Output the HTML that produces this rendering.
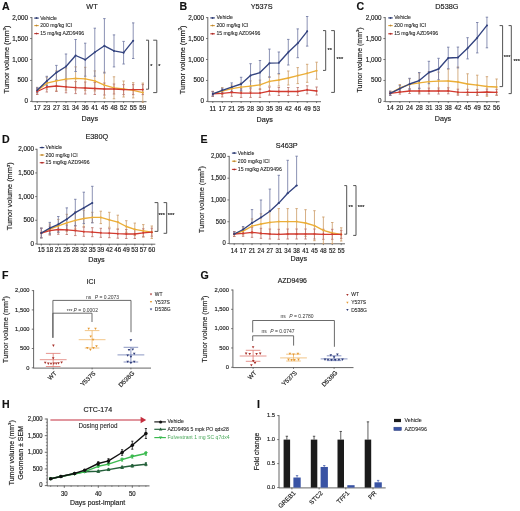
<!DOCTYPE html>
<html><head><meta charset="utf-8"><style>
html,body{margin:0;padding:0;background:#fff;}
svg{display:block;font-family:"Liberation Sans", sans-serif;filter:blur(0.25px);}
text{stroke:#1c1c1c;stroke-width:0.16px;}
</style></head><body>
<svg width="520" height="511" viewBox="0 0 520 511">
<rect width="520" height="511" fill="#fff"/>
<line x1="31.90" y1="17.10" x2="31.90" y2="101.90" stroke="#555555" stroke-width="0.9" />
<line x1="31.90" y1="101.70" x2="146.50" y2="101.70" stroke="#555555" stroke-width="0.9" />
<line x1="30.10" y1="101.40" x2="31.90" y2="101.40" stroke="#555555" stroke-width="0.8" />
<text x="28.10" y="103.25" font-size="6.3" text-anchor="end" fill="#1c1c1c" font-weight="normal" transform="translate(0,-8.080) scale(1,1.08)" >0</text>
<line x1="30.10" y1="80.45" x2="31.90" y2="80.45" stroke="#555555" stroke-width="0.8" />
<text x="28.10" y="82.30" font-size="6.3" text-anchor="end" fill="#1c1c1c" font-weight="normal" transform="translate(0,-6.404) scale(1,1.08)" >500</text>
<line x1="30.10" y1="59.50" x2="31.90" y2="59.50" stroke="#555555" stroke-width="0.8" />
<text x="28.10" y="61.35" font-size="6.3" text-anchor="end" fill="#1c1c1c" font-weight="normal" transform="translate(0,-4.728) scale(1,1.08)" >1,000</text>
<line x1="30.10" y1="38.55" x2="31.90" y2="38.55" stroke="#555555" stroke-width="0.8" />
<text x="28.10" y="40.40" font-size="6.3" text-anchor="end" fill="#1c1c1c" font-weight="normal" transform="translate(0,-3.052) scale(1,1.08)" >1,500</text>
<line x1="30.10" y1="17.60" x2="31.90" y2="17.60" stroke="#555555" stroke-width="0.8" />
<text x="28.10" y="19.45" font-size="6.3" text-anchor="end" fill="#1c1c1c" font-weight="normal" transform="translate(0,-1.376) scale(1,1.08)" >2,000</text>
<line x1="37.20" y1="101.40" x2="37.20" y2="103.00" stroke="#555555" stroke-width="0.8" />
<text x="37.20" y="110.05" font-size="6.3" text-anchor="middle" fill="#1c1c1c" font-weight="normal" transform="translate(0,-8.624) scale(1,1.08)" >17</text>
<line x1="46.80" y1="101.40" x2="46.80" y2="103.00" stroke="#555555" stroke-width="0.8" />
<text x="46.80" y="110.05" font-size="6.3" text-anchor="middle" fill="#1c1c1c" font-weight="normal" transform="translate(0,-8.624) scale(1,1.08)" >23</text>
<line x1="56.40" y1="101.40" x2="56.40" y2="103.00" stroke="#555555" stroke-width="0.8" />
<text x="56.40" y="110.05" font-size="6.3" text-anchor="middle" fill="#1c1c1c" font-weight="normal" transform="translate(0,-8.624) scale(1,1.08)" >27</text>
<line x1="66.00" y1="101.40" x2="66.00" y2="103.00" stroke="#555555" stroke-width="0.8" />
<text x="66.00" y="110.05" font-size="6.3" text-anchor="middle" fill="#1c1c1c" font-weight="normal" transform="translate(0,-8.624) scale(1,1.08)" >31</text>
<line x1="75.60" y1="101.40" x2="75.60" y2="103.00" stroke="#555555" stroke-width="0.8" />
<text x="75.60" y="110.05" font-size="6.3" text-anchor="middle" fill="#1c1c1c" font-weight="normal" transform="translate(0,-8.624) scale(1,1.08)" >34</text>
<line x1="85.20" y1="101.40" x2="85.20" y2="103.00" stroke="#555555" stroke-width="0.8" />
<text x="85.20" y="110.05" font-size="6.3" text-anchor="middle" fill="#1c1c1c" font-weight="normal" transform="translate(0,-8.624) scale(1,1.08)" >36</text>
<line x1="94.80" y1="101.40" x2="94.80" y2="103.00" stroke="#555555" stroke-width="0.8" />
<text x="94.80" y="110.05" font-size="6.3" text-anchor="middle" fill="#1c1c1c" font-weight="normal" transform="translate(0,-8.624) scale(1,1.08)" >41</text>
<line x1="104.40" y1="101.40" x2="104.40" y2="103.00" stroke="#555555" stroke-width="0.8" />
<text x="104.40" y="110.05" font-size="6.3" text-anchor="middle" fill="#1c1c1c" font-weight="normal" transform="translate(0,-8.624) scale(1,1.08)" >45</text>
<line x1="114.00" y1="101.40" x2="114.00" y2="103.00" stroke="#555555" stroke-width="0.8" />
<text x="114.00" y="110.05" font-size="6.3" text-anchor="middle" fill="#1c1c1c" font-weight="normal" transform="translate(0,-8.624) scale(1,1.08)" >48</text>
<line x1="123.60" y1="101.40" x2="123.60" y2="103.00" stroke="#555555" stroke-width="0.8" />
<text x="123.60" y="110.05" font-size="6.3" text-anchor="middle" fill="#1c1c1c" font-weight="normal" transform="translate(0,-8.624) scale(1,1.08)" >52</text>
<line x1="133.20" y1="101.40" x2="133.20" y2="103.00" stroke="#555555" stroke-width="0.8" />
<text x="133.20" y="110.05" font-size="6.3" text-anchor="middle" fill="#1c1c1c" font-weight="normal" transform="translate(0,-8.624) scale(1,1.08)" >55</text>
<line x1="142.80" y1="101.40" x2="142.80" y2="103.00" stroke="#555555" stroke-width="0.8" />
<text x="142.80" y="110.05" font-size="6.3" text-anchor="middle" fill="#1c1c1c" font-weight="normal" transform="translate(0,-8.624) scale(1,1.08)" >59</text>
<text x="89.80" y="120.37" font-size="7.2" text-anchor="middle" fill="#1c1c1c" font-weight="normal" transform="translate(0,-9.424) scale(1,1.08)" >Days</text>
<text x="92.00" y="8.81" font-size="7.3" text-anchor="middle" fill="#1c1c1c" font-weight="normal" transform="translate(0,-0.496) scale(1,1.08)" >WT</text>
<text x="2.00" y="9.38" font-size="10.6" text-anchor="start" fill="#111" font-weight="bold" transform="translate(0,-0.448) scale(1,1.08)" >A</text>
<g transform="translate(6.30,59.50) rotate(-90)">
<text x="0" y="2.61" font-size="7.3" text-anchor="middle" fill="#1c1c1c" >Tumor volume (mm<tspan font-size="4.38" dy="-2.63">3</tspan><tspan dy="2.63">)</tspan></text>
</g>
<line x1="34.20" y1="18.10" x2="38.80" y2="18.10" stroke="#33437f" stroke-width="1.1" />
<path d="M35.20,18.10 L36.50,17.10 L37.80,18.10 L36.50,19.10 Z" fill="#28356a"/>
<text x="40.20" y="19.54" font-size="5.15" text-anchor="start" fill="#1c1c1c" font-weight="normal" transform="translate(0,-1.416) scale(1,1.08)"  style="stroke-width:0.08px">Vehicle</text>
<line x1="34.20" y1="25.60" x2="38.80" y2="25.60" stroke="#ebae38" stroke-width="1.1" />
<path d="M35.20,25.60 L36.50,24.60 L37.80,25.60 L36.50,26.60 Z" fill="#b08040"/>
<text x="40.20" y="27.04" font-size="5.15" text-anchor="start" fill="#1c1c1c" font-weight="normal" transform="translate(0,-2.016) scale(1,1.08)"  style="stroke-width:0.08px">200 mg/kg ICI</text>
<line x1="34.20" y1="33.60" x2="38.80" y2="33.60" stroke="#d23b30" stroke-width="1.1" />
<path d="M35.20,33.60 L36.50,32.60 L37.80,33.60 L36.50,34.60 Z" fill="#9c3030"/>
<text x="40.20" y="35.04" font-size="5.15" text-anchor="start" fill="#1c1c1c" font-weight="normal" transform="translate(0,-2.656) scale(1,1.08)"  style="stroke-width:0.08px">15 mg/kg AZD9496</text>
<line x1="37.20" y1="87.30" x2="37.20" y2="94.30" stroke="#cfa270" stroke-width="0.85" />
<line x1="36.00" y1="87.30" x2="38.40" y2="87.30" stroke="#cfa270" stroke-width="0.9" />
<line x1="36.00" y1="94.30" x2="38.40" y2="94.30" stroke="#cfa270" stroke-width="0.9" />
<line x1="46.80" y1="77.20" x2="46.80" y2="89.20" stroke="#cfa270" stroke-width="0.85" />
<line x1="45.60" y1="77.20" x2="48.00" y2="77.20" stroke="#cfa270" stroke-width="0.9" />
<line x1="45.60" y1="89.20" x2="48.00" y2="89.20" stroke="#cfa270" stroke-width="0.9" />
<line x1="56.40" y1="70.90" x2="56.40" y2="90.90" stroke="#cfa270" stroke-width="0.85" />
<line x1="55.20" y1="70.90" x2="57.60" y2="70.90" stroke="#cfa270" stroke-width="0.9" />
<line x1="55.20" y1="90.90" x2="57.60" y2="90.90" stroke="#cfa270" stroke-width="0.9" />
<line x1="66.00" y1="68.10" x2="66.00" y2="90.10" stroke="#cfa270" stroke-width="0.85" />
<line x1="64.80" y1="68.10" x2="67.20" y2="68.10" stroke="#cfa270" stroke-width="0.9" />
<line x1="64.80" y1="90.10" x2="67.20" y2="90.10" stroke="#cfa270" stroke-width="0.9" />
<line x1="75.60" y1="66.90" x2="75.60" y2="89.90" stroke="#cfa270" stroke-width="0.85" />
<line x1="74.40" y1="66.90" x2="76.80" y2="66.90" stroke="#cfa270" stroke-width="0.9" />
<line x1="74.40" y1="89.90" x2="76.80" y2="89.90" stroke="#cfa270" stroke-width="0.9" />
<line x1="85.20" y1="67.30" x2="85.20" y2="90.30" stroke="#cfa270" stroke-width="0.85" />
<line x1="84.00" y1="67.30" x2="86.40" y2="67.30" stroke="#cfa270" stroke-width="0.9" />
<line x1="84.00" y1="90.30" x2="86.40" y2="90.30" stroke="#cfa270" stroke-width="0.9" />
<line x1="94.80" y1="70.90" x2="94.80" y2="90.90" stroke="#cfa270" stroke-width="0.85" />
<line x1="93.60" y1="70.90" x2="96.00" y2="70.90" stroke="#cfa270" stroke-width="0.9" />
<line x1="93.60" y1="90.90" x2="96.00" y2="90.90" stroke="#cfa270" stroke-width="0.9" />
<line x1="104.40" y1="72.20" x2="104.40" y2="98.20" stroke="#cfa270" stroke-width="0.85" />
<line x1="103.20" y1="72.20" x2="105.60" y2="72.20" stroke="#cfa270" stroke-width="0.9" />
<line x1="103.20" y1="98.20" x2="105.60" y2="98.20" stroke="#cfa270" stroke-width="0.9" />
<line x1="114.00" y1="76.80" x2="114.00" y2="98.80" stroke="#cfa270" stroke-width="0.85" />
<line x1="112.80" y1="76.80" x2="115.20" y2="76.80" stroke="#cfa270" stroke-width="0.9" />
<line x1="112.80" y1="98.80" x2="115.20" y2="98.80" stroke="#cfa270" stroke-width="0.9" />
<line x1="123.60" y1="81.00" x2="123.60" y2="97.00" stroke="#cfa270" stroke-width="0.85" />
<line x1="122.40" y1="81.00" x2="124.80" y2="81.00" stroke="#cfa270" stroke-width="0.9" />
<line x1="122.40" y1="97.00" x2="124.80" y2="97.00" stroke="#cfa270" stroke-width="0.9" />
<line x1="133.20" y1="82.70" x2="133.20" y2="97.90" stroke="#cfa270" stroke-width="0.85" />
<line x1="132.00" y1="82.70" x2="134.40" y2="82.70" stroke="#cfa270" stroke-width="0.9" />
<line x1="132.00" y1="97.90" x2="134.40" y2="97.90" stroke="#cfa270" stroke-width="0.9" />
<line x1="142.80" y1="83.10" x2="142.80" y2="102.10" stroke="#cfa270" stroke-width="0.85" />
<line x1="141.60" y1="83.10" x2="144.00" y2="83.10" stroke="#cfa270" stroke-width="0.9" />
<line x1="141.60" y1="102.10" x2="144.00" y2="102.10" stroke="#cfa270" stroke-width="0.9" />
<line x1="37.20" y1="88.50" x2="37.20" y2="94.50" stroke="#bf7a72" stroke-width="0.85" />
<line x1="36.00" y1="88.50" x2="38.40" y2="88.50" stroke="#bf7a72" stroke-width="0.9" />
<line x1="36.00" y1="94.50" x2="38.40" y2="94.50" stroke="#bf7a72" stroke-width="0.9" />
<line x1="46.80" y1="82.00" x2="46.80" y2="92.00" stroke="#bf7a72" stroke-width="0.85" />
<line x1="45.60" y1="82.00" x2="48.00" y2="82.00" stroke="#bf7a72" stroke-width="0.9" />
<line x1="45.60" y1="92.00" x2="48.00" y2="92.00" stroke="#bf7a72" stroke-width="0.9" />
<line x1="56.40" y1="80.50" x2="56.40" y2="91.50" stroke="#bf7a72" stroke-width="0.85" />
<line x1="55.20" y1="80.50" x2="57.60" y2="80.50" stroke="#bf7a72" stroke-width="0.9" />
<line x1="55.20" y1="91.50" x2="57.60" y2="91.50" stroke="#bf7a72" stroke-width="0.9" />
<line x1="66.00" y1="80.80" x2="66.00" y2="92.80" stroke="#bf7a72" stroke-width="0.85" />
<line x1="64.80" y1="80.80" x2="67.20" y2="80.80" stroke="#bf7a72" stroke-width="0.9" />
<line x1="64.80" y1="92.80" x2="67.20" y2="92.80" stroke="#bf7a72" stroke-width="0.9" />
<line x1="75.60" y1="81.60" x2="75.60" y2="93.60" stroke="#bf7a72" stroke-width="0.85" />
<line x1="74.40" y1="81.60" x2="76.80" y2="81.60" stroke="#bf7a72" stroke-width="0.9" />
<line x1="74.40" y1="93.60" x2="76.80" y2="93.60" stroke="#bf7a72" stroke-width="0.9" />
<line x1="85.20" y1="82.00" x2="85.20" y2="94.00" stroke="#bf7a72" stroke-width="0.85" />
<line x1="84.00" y1="82.00" x2="86.40" y2="82.00" stroke="#bf7a72" stroke-width="0.9" />
<line x1="84.00" y1="94.00" x2="86.40" y2="94.00" stroke="#bf7a72" stroke-width="0.9" />
<line x1="94.80" y1="82.50" x2="94.80" y2="94.50" stroke="#bf7a72" stroke-width="0.85" />
<line x1="93.60" y1="82.50" x2="96.00" y2="82.50" stroke="#bf7a72" stroke-width="0.9" />
<line x1="93.60" y1="94.50" x2="96.00" y2="94.50" stroke="#bf7a72" stroke-width="0.9" />
<line x1="104.40" y1="83.00" x2="104.40" y2="95.00" stroke="#bf7a72" stroke-width="0.85" />
<line x1="103.20" y1="83.00" x2="105.60" y2="83.00" stroke="#bf7a72" stroke-width="0.9" />
<line x1="103.20" y1="95.00" x2="105.60" y2="95.00" stroke="#bf7a72" stroke-width="0.9" />
<line x1="114.00" y1="84.00" x2="114.00" y2="94.00" stroke="#bf7a72" stroke-width="0.85" />
<line x1="112.80" y1="84.00" x2="115.20" y2="84.00" stroke="#bf7a72" stroke-width="0.9" />
<line x1="112.80" y1="94.00" x2="115.20" y2="94.00" stroke="#bf7a72" stroke-width="0.9" />
<line x1="123.60" y1="84.60" x2="123.60" y2="94.60" stroke="#bf7a72" stroke-width="0.85" />
<line x1="122.40" y1="84.60" x2="124.80" y2="84.60" stroke="#bf7a72" stroke-width="0.9" />
<line x1="122.40" y1="94.60" x2="124.80" y2="94.60" stroke="#bf7a72" stroke-width="0.9" />
<line x1="133.20" y1="84.60" x2="133.20" y2="94.60" stroke="#bf7a72" stroke-width="0.85" />
<line x1="132.00" y1="84.60" x2="134.40" y2="84.60" stroke="#bf7a72" stroke-width="0.9" />
<line x1="132.00" y1="94.60" x2="134.40" y2="94.60" stroke="#bf7a72" stroke-width="0.9" />
<line x1="142.80" y1="84.60" x2="142.80" y2="94.60" stroke="#bf7a72" stroke-width="0.85" />
<line x1="141.60" y1="84.60" x2="144.00" y2="84.60" stroke="#bf7a72" stroke-width="0.9" />
<line x1="141.60" y1="94.60" x2="144.00" y2="94.60" stroke="#bf7a72" stroke-width="0.9" />
<line x1="37.20" y1="87.70" x2="37.20" y2="92.70" stroke="#767ea6" stroke-width="0.85" />
<line x1="36.00" y1="87.70" x2="38.40" y2="87.70" stroke="#767ea6" stroke-width="0.9" />
<line x1="36.00" y1="92.70" x2="38.40" y2="92.70" stroke="#767ea6" stroke-width="0.9" />
<line x1="46.80" y1="76.30" x2="46.80" y2="85.50" stroke="#767ea6" stroke-width="0.85" />
<line x1="45.60" y1="76.30" x2="48.00" y2="76.30" stroke="#767ea6" stroke-width="0.9" />
<line x1="45.60" y1="85.50" x2="48.00" y2="85.50" stroke="#767ea6" stroke-width="0.9" />
<line x1="56.40" y1="65.40" x2="56.40" y2="79.80" stroke="#767ea6" stroke-width="0.85" />
<line x1="55.20" y1="65.40" x2="57.60" y2="65.40" stroke="#767ea6" stroke-width="0.9" />
<line x1="55.20" y1="79.80" x2="57.60" y2="79.80" stroke="#767ea6" stroke-width="0.9" />
<line x1="66.00" y1="54.00" x2="66.00" y2="79.00" stroke="#767ea6" stroke-width="0.85" />
<line x1="64.80" y1="54.00" x2="67.20" y2="54.00" stroke="#767ea6" stroke-width="0.9" />
<line x1="64.80" y1="79.00" x2="67.20" y2="79.00" stroke="#767ea6" stroke-width="0.9" />
<line x1="75.60" y1="39.50" x2="75.60" y2="71.50" stroke="#767ea6" stroke-width="0.85" />
<line x1="74.40" y1="39.50" x2="76.80" y2="39.50" stroke="#767ea6" stroke-width="0.9" />
<line x1="74.40" y1="71.50" x2="76.80" y2="71.50" stroke="#767ea6" stroke-width="0.9" />
<line x1="85.20" y1="43.20" x2="85.20" y2="76.20" stroke="#767ea6" stroke-width="0.85" />
<line x1="84.00" y1="43.20" x2="86.40" y2="43.20" stroke="#767ea6" stroke-width="0.9" />
<line x1="84.00" y1="76.20" x2="86.40" y2="76.20" stroke="#767ea6" stroke-width="0.9" />
<line x1="94.80" y1="28.20" x2="94.80" y2="76.20" stroke="#767ea6" stroke-width="0.85" />
<line x1="93.60" y1="28.20" x2="96.00" y2="28.20" stroke="#767ea6" stroke-width="0.9" />
<line x1="93.60" y1="76.20" x2="96.00" y2="76.20" stroke="#767ea6" stroke-width="0.9" />
<line x1="104.40" y1="18.60" x2="104.40" y2="73.00" stroke="#767ea6" stroke-width="0.85" />
<line x1="103.20" y1="18.60" x2="105.60" y2="18.60" stroke="#767ea6" stroke-width="0.9" />
<line x1="103.20" y1="73.00" x2="105.60" y2="73.00" stroke="#767ea6" stroke-width="0.9" />
<line x1="114.00" y1="34.90" x2="114.00" y2="66.90" stroke="#767ea6" stroke-width="0.85" />
<line x1="112.80" y1="34.90" x2="115.20" y2="34.90" stroke="#767ea6" stroke-width="0.9" />
<line x1="112.80" y1="66.90" x2="115.20" y2="66.90" stroke="#767ea6" stroke-width="0.9" />
<line x1="123.60" y1="41.40" x2="123.60" y2="64.00" stroke="#767ea6" stroke-width="0.85" />
<line x1="122.40" y1="41.40" x2="124.80" y2="41.40" stroke="#767ea6" stroke-width="0.9" />
<line x1="122.40" y1="64.00" x2="124.80" y2="64.00" stroke="#767ea6" stroke-width="0.9" />
<line x1="133.20" y1="22.90" x2="133.20" y2="58.50" stroke="#767ea6" stroke-width="0.85" />
<line x1="132.00" y1="22.90" x2="134.40" y2="22.90" stroke="#767ea6" stroke-width="0.9" />
<line x1="132.00" y1="58.50" x2="134.40" y2="58.50" stroke="#767ea6" stroke-width="0.9" />
<polyline points="37.20,90.80 46.80,83.20 56.40,80.90 66.00,79.10 75.60,78.40 85.20,78.80 94.80,80.90 104.40,85.20 114.00,87.80 123.60,89.00 133.20,90.30 142.80,92.60" fill="none" stroke="#ebae38" stroke-width="1.35" stroke-linejoin="round" stroke-linecap="round"/>
<circle cx="37.20" cy="90.80" r="1.0" fill="#ebae38"/>
<circle cx="46.80" cy="83.20" r="1.0" fill="#ebae38"/>
<circle cx="56.40" cy="80.90" r="1.0" fill="#ebae38"/>
<circle cx="66.00" cy="79.10" r="1.0" fill="#ebae38"/>
<circle cx="75.60" cy="78.40" r="1.0" fill="#ebae38"/>
<circle cx="85.20" cy="78.80" r="1.0" fill="#ebae38"/>
<circle cx="94.80" cy="80.90" r="1.0" fill="#ebae38"/>
<circle cx="104.40" cy="85.20" r="1.0" fill="#ebae38"/>
<circle cx="114.00" cy="87.80" r="1.0" fill="#ebae38"/>
<circle cx="123.60" cy="89.00" r="1.0" fill="#ebae38"/>
<circle cx="133.20" cy="90.30" r="1.0" fill="#ebae38"/>
<circle cx="142.80" cy="92.60" r="1.0" fill="#ebae38"/>
<polyline points="37.20,91.50 46.80,87.00 56.40,86.00 66.00,86.80 75.60,87.60 85.20,88.00 94.80,88.50 104.40,89.00 114.00,89.00 123.60,89.60 133.20,89.60 142.80,89.60" fill="none" stroke="#d23b30" stroke-width="1.35" stroke-linejoin="round" stroke-linecap="round"/>
<circle cx="37.20" cy="91.50" r="1.0" fill="#d23b30"/>
<circle cx="46.80" cy="87.00" r="1.0" fill="#d23b30"/>
<circle cx="56.40" cy="86.00" r="1.0" fill="#d23b30"/>
<circle cx="66.00" cy="86.80" r="1.0" fill="#d23b30"/>
<circle cx="75.60" cy="87.60" r="1.0" fill="#d23b30"/>
<circle cx="85.20" cy="88.00" r="1.0" fill="#d23b30"/>
<circle cx="94.80" cy="88.50" r="1.0" fill="#d23b30"/>
<circle cx="104.40" cy="89.00" r="1.0" fill="#d23b30"/>
<circle cx="114.00" cy="89.00" r="1.0" fill="#d23b30"/>
<circle cx="123.60" cy="89.60" r="1.0" fill="#d23b30"/>
<circle cx="133.20" cy="89.60" r="1.0" fill="#d23b30"/>
<circle cx="142.80" cy="89.60" r="1.0" fill="#d23b30"/>
<polyline points="37.20,90.20 46.80,80.90 56.40,72.60 66.00,66.50 75.60,55.50 85.20,59.70 94.80,52.20 104.40,45.80 114.00,50.90 123.60,52.70 133.20,40.70" fill="none" stroke="#33437f" stroke-width="1.35" stroke-linejoin="round" stroke-linecap="round"/>
<circle cx="37.20" cy="90.20" r="1.0" fill="#33437f"/>
<circle cx="46.80" cy="80.90" r="1.0" fill="#33437f"/>
<circle cx="56.40" cy="72.60" r="1.0" fill="#33437f"/>
<circle cx="66.00" cy="66.50" r="1.0" fill="#33437f"/>
<circle cx="75.60" cy="55.50" r="1.0" fill="#33437f"/>
<circle cx="85.20" cy="59.70" r="1.0" fill="#33437f"/>
<circle cx="94.80" cy="52.20" r="1.0" fill="#33437f"/>
<circle cx="104.40" cy="45.80" r="1.0" fill="#33437f"/>
<circle cx="114.00" cy="50.90" r="1.0" fill="#33437f"/>
<circle cx="123.60" cy="52.70" r="1.0" fill="#33437f"/>
<circle cx="133.20" cy="40.70" r="1.0" fill="#33437f"/>
<polyline points="146.00,40.20 148.60,40.20 148.60,89.20 146.00,89.20" fill="none" stroke="#404040" stroke-width="0.9"/>
<text x="150.30" y="68.10" font-size="5.6" fill="#1c1c1c">*</text>
<polyline points="153.20,40.20 156.80,40.20 156.80,92.60 153.20,92.60" fill="none" stroke="#404040" stroke-width="0.9"/>
<text x="158.20" y="68.10" font-size="5.6" fill="#1c1c1c">*</text>
<line x1="207.80" y1="17.10" x2="207.80" y2="101.90" stroke="#555555" stroke-width="0.9" />
<line x1="207.80" y1="101.70" x2="321.00" y2="101.70" stroke="#555555" stroke-width="0.9" />
<line x1="206.00" y1="101.40" x2="207.80" y2="101.40" stroke="#555555" stroke-width="0.8" />
<text x="204.00" y="103.25" font-size="6.3" text-anchor="end" fill="#1c1c1c" font-weight="normal" transform="translate(0,-8.080) scale(1,1.08)" >0</text>
<line x1="206.00" y1="80.45" x2="207.80" y2="80.45" stroke="#555555" stroke-width="0.8" />
<text x="204.00" y="82.30" font-size="6.3" text-anchor="end" fill="#1c1c1c" font-weight="normal" transform="translate(0,-6.404) scale(1,1.08)" >500</text>
<line x1="206.00" y1="59.50" x2="207.80" y2="59.50" stroke="#555555" stroke-width="0.8" />
<text x="204.00" y="61.35" font-size="6.3" text-anchor="end" fill="#1c1c1c" font-weight="normal" transform="translate(0,-4.728) scale(1,1.08)" >1,000</text>
<line x1="206.00" y1="38.55" x2="207.80" y2="38.55" stroke="#555555" stroke-width="0.8" />
<text x="204.00" y="40.40" font-size="6.3" text-anchor="end" fill="#1c1c1c" font-weight="normal" transform="translate(0,-3.052) scale(1,1.08)" >1,500</text>
<line x1="206.00" y1="17.60" x2="207.80" y2="17.60" stroke="#555555" stroke-width="0.8" />
<text x="204.00" y="19.45" font-size="6.3" text-anchor="end" fill="#1c1c1c" font-weight="normal" transform="translate(0,-1.376) scale(1,1.08)" >2,000</text>
<line x1="212.80" y1="101.40" x2="212.80" y2="103.00" stroke="#555555" stroke-width="0.8" />
<text x="212.80" y="110.45" font-size="6.3" text-anchor="middle" fill="#1c1c1c" font-weight="normal" transform="translate(0,-8.656) scale(1,1.08)" >11</text>
<line x1="222.24" y1="101.40" x2="222.24" y2="103.00" stroke="#555555" stroke-width="0.8" />
<text x="222.24" y="110.45" font-size="6.3" text-anchor="middle" fill="#1c1c1c" font-weight="normal" transform="translate(0,-8.656) scale(1,1.08)" >17</text>
<line x1="231.67" y1="101.40" x2="231.67" y2="103.00" stroke="#555555" stroke-width="0.8" />
<text x="231.67" y="110.45" font-size="6.3" text-anchor="middle" fill="#1c1c1c" font-weight="normal" transform="translate(0,-8.656) scale(1,1.08)" >21</text>
<line x1="241.11" y1="101.40" x2="241.11" y2="103.00" stroke="#555555" stroke-width="0.8" />
<text x="241.11" y="110.45" font-size="6.3" text-anchor="middle" fill="#1c1c1c" font-weight="normal" transform="translate(0,-8.656) scale(1,1.08)" >25</text>
<line x1="250.55" y1="101.40" x2="250.55" y2="103.00" stroke="#555555" stroke-width="0.8" />
<text x="250.55" y="110.45" font-size="6.3" text-anchor="middle" fill="#1c1c1c" font-weight="normal" transform="translate(0,-8.656) scale(1,1.08)" >28</text>
<line x1="259.98" y1="101.40" x2="259.98" y2="103.00" stroke="#555555" stroke-width="0.8" />
<text x="259.98" y="110.45" font-size="6.3" text-anchor="middle" fill="#1c1c1c" font-weight="normal" transform="translate(0,-8.656) scale(1,1.08)" >30</text>
<line x1="269.42" y1="101.40" x2="269.42" y2="103.00" stroke="#555555" stroke-width="0.8" />
<text x="269.42" y="110.45" font-size="6.3" text-anchor="middle" fill="#1c1c1c" font-weight="normal" transform="translate(0,-8.656) scale(1,1.08)" >35</text>
<line x1="278.85" y1="101.40" x2="278.85" y2="103.00" stroke="#555555" stroke-width="0.8" />
<text x="278.85" y="110.45" font-size="6.3" text-anchor="middle" fill="#1c1c1c" font-weight="normal" transform="translate(0,-8.656) scale(1,1.08)" >39</text>
<line x1="288.29" y1="101.40" x2="288.29" y2="103.00" stroke="#555555" stroke-width="0.8" />
<text x="288.29" y="110.45" font-size="6.3" text-anchor="middle" fill="#1c1c1c" font-weight="normal" transform="translate(0,-8.656) scale(1,1.08)" >42</text>
<line x1="297.73" y1="101.40" x2="297.73" y2="103.00" stroke="#555555" stroke-width="0.8" />
<text x="297.73" y="110.45" font-size="6.3" text-anchor="middle" fill="#1c1c1c" font-weight="normal" transform="translate(0,-8.656) scale(1,1.08)" >46</text>
<line x1="307.16" y1="101.40" x2="307.16" y2="103.00" stroke="#555555" stroke-width="0.8" />
<text x="307.16" y="110.45" font-size="6.3" text-anchor="middle" fill="#1c1c1c" font-weight="normal" transform="translate(0,-8.656) scale(1,1.08)" >49</text>
<line x1="316.60" y1="101.40" x2="316.60" y2="103.00" stroke="#555555" stroke-width="0.8" />
<text x="316.60" y="110.45" font-size="6.3" text-anchor="middle" fill="#1c1c1c" font-weight="normal" transform="translate(0,-8.656) scale(1,1.08)" >53</text>
<text x="264.70" y="121.77" font-size="7.2" text-anchor="middle" fill="#1c1c1c" font-weight="normal" transform="translate(0,-9.536) scale(1,1.08)" >Days</text>
<text x="261.60" y="8.81" font-size="7.3" text-anchor="middle" fill="#1c1c1c" font-weight="normal" transform="translate(0,-0.496) scale(1,1.08)" >Y537S</text>
<text x="179.60" y="9.38" font-size="10.6" text-anchor="start" fill="#111" font-weight="bold" transform="translate(0,-0.448) scale(1,1.08)" >B</text>
<g transform="translate(182.30,59.80) rotate(-90)">
<text x="0" y="2.64" font-size="7.4" text-anchor="middle" fill="#1c1c1c" >Tumor volume (mm<tspan font-size="4.44" dy="-2.66">3</tspan><tspan dy="2.66">)</tspan></text>
</g>
<line x1="210.30" y1="17.90" x2="214.90" y2="17.90" stroke="#33437f" stroke-width="1.1" />
<path d="M211.30,17.90 L212.60,16.90 L213.90,17.90 L212.60,18.90 Z" fill="#28356a"/>
<text x="216.40" y="19.34" font-size="5.15" text-anchor="start" fill="#1c1c1c" font-weight="normal" transform="translate(0,-1.400) scale(1,1.08)"  style="stroke-width:0.08px">Vehicle</text>
<line x1="210.30" y1="25.60" x2="214.90" y2="25.60" stroke="#ebae38" stroke-width="1.1" />
<path d="M211.30,25.60 L212.60,24.60 L213.90,25.60 L212.60,26.60 Z" fill="#b08040"/>
<text x="216.40" y="27.04" font-size="5.15" text-anchor="start" fill="#1c1c1c" font-weight="normal" transform="translate(0,-2.016) scale(1,1.08)"  style="stroke-width:0.08px">200 mg/kg ICI</text>
<line x1="210.30" y1="33.80" x2="214.90" y2="33.80" stroke="#d23b30" stroke-width="1.1" />
<path d="M211.30,33.80 L212.60,32.80 L213.90,33.80 L212.60,34.80 Z" fill="#9c3030"/>
<text x="216.40" y="35.24" font-size="5.15" text-anchor="start" fill="#1c1c1c" font-weight="normal" transform="translate(0,-2.672) scale(1,1.08)"  style="stroke-width:0.08px">15 mg/kg AZD9496</text>
<line x1="212.80" y1="91.40" x2="212.80" y2="96.40" stroke="#cfa270" stroke-width="0.85" />
<line x1="211.60" y1="91.40" x2="214.00" y2="91.40" stroke="#cfa270" stroke-width="0.9" />
<line x1="211.60" y1="96.40" x2="214.00" y2="96.40" stroke="#cfa270" stroke-width="0.9" />
<line x1="222.24" y1="87.60" x2="222.24" y2="94.60" stroke="#cfa270" stroke-width="0.85" />
<line x1="221.04" y1="87.60" x2="223.44" y2="87.60" stroke="#cfa270" stroke-width="0.9" />
<line x1="221.04" y1="94.60" x2="223.44" y2="94.60" stroke="#cfa270" stroke-width="0.9" />
<line x1="231.67" y1="85.10" x2="231.67" y2="92.30" stroke="#cfa270" stroke-width="0.85" />
<line x1="230.47" y1="85.10" x2="232.87" y2="85.10" stroke="#cfa270" stroke-width="0.9" />
<line x1="230.47" y1="92.30" x2="232.87" y2="92.30" stroke="#cfa270" stroke-width="0.9" />
<line x1="241.11" y1="82.90" x2="241.11" y2="91.50" stroke="#cfa270" stroke-width="0.85" />
<line x1="239.91" y1="82.90" x2="242.31" y2="82.90" stroke="#cfa270" stroke-width="0.9" />
<line x1="239.91" y1="91.50" x2="242.31" y2="91.50" stroke="#cfa270" stroke-width="0.9" />
<line x1="250.55" y1="80.90" x2="250.55" y2="91.30" stroke="#cfa270" stroke-width="0.85" />
<line x1="249.35" y1="80.90" x2="251.75" y2="80.90" stroke="#cfa270" stroke-width="0.9" />
<line x1="249.35" y1="91.30" x2="251.75" y2="91.30" stroke="#cfa270" stroke-width="0.9" />
<line x1="259.98" y1="80.10" x2="259.98" y2="89.50" stroke="#cfa270" stroke-width="0.85" />
<line x1="258.78" y1="80.10" x2="261.18" y2="80.10" stroke="#cfa270" stroke-width="0.9" />
<line x1="258.78" y1="89.50" x2="261.18" y2="89.50" stroke="#cfa270" stroke-width="0.9" />
<line x1="269.42" y1="76.70" x2="269.42" y2="86.10" stroke="#cfa270" stroke-width="0.85" />
<line x1="268.22" y1="76.70" x2="270.62" y2="76.70" stroke="#cfa270" stroke-width="0.9" />
<line x1="268.22" y1="86.10" x2="270.62" y2="86.10" stroke="#cfa270" stroke-width="0.9" />
<line x1="278.85" y1="74.00" x2="278.85" y2="86.00" stroke="#cfa270" stroke-width="0.85" />
<line x1="277.65" y1="74.00" x2="280.05" y2="74.00" stroke="#cfa270" stroke-width="0.9" />
<line x1="277.65" y1="86.00" x2="280.05" y2="86.00" stroke="#cfa270" stroke-width="0.9" />
<line x1="288.29" y1="71.00" x2="288.29" y2="85.00" stroke="#cfa270" stroke-width="0.85" />
<line x1="287.09" y1="71.00" x2="289.49" y2="71.00" stroke="#cfa270" stroke-width="0.9" />
<line x1="287.09" y1="85.00" x2="289.49" y2="85.00" stroke="#cfa270" stroke-width="0.9" />
<line x1="297.73" y1="67.60" x2="297.73" y2="83.60" stroke="#cfa270" stroke-width="0.85" />
<line x1="296.53" y1="67.60" x2="298.93" y2="67.60" stroke="#cfa270" stroke-width="0.9" />
<line x1="296.53" y1="83.60" x2="298.93" y2="83.60" stroke="#cfa270" stroke-width="0.9" />
<line x1="307.16" y1="64.30" x2="307.16" y2="82.30" stroke="#cfa270" stroke-width="0.85" />
<line x1="305.96" y1="64.30" x2="308.36" y2="64.30" stroke="#cfa270" stroke-width="0.9" />
<line x1="305.96" y1="82.30" x2="308.36" y2="82.30" stroke="#cfa270" stroke-width="0.9" />
<line x1="316.60" y1="62.20" x2="316.60" y2="79.20" stroke="#cfa270" stroke-width="0.85" />
<line x1="315.40" y1="62.20" x2="317.80" y2="62.20" stroke="#cfa270" stroke-width="0.9" />
<line x1="315.40" y1="79.20" x2="317.80" y2="79.20" stroke="#cfa270" stroke-width="0.9" />
<line x1="212.80" y1="91.40" x2="212.80" y2="96.40" stroke="#bf7a72" stroke-width="0.85" />
<line x1="211.60" y1="91.40" x2="214.00" y2="91.40" stroke="#bf7a72" stroke-width="0.9" />
<line x1="211.60" y1="96.40" x2="214.00" y2="96.40" stroke="#bf7a72" stroke-width="0.9" />
<line x1="222.24" y1="89.90" x2="222.24" y2="96.90" stroke="#bf7a72" stroke-width="0.85" />
<line x1="221.04" y1="89.90" x2="223.44" y2="89.90" stroke="#bf7a72" stroke-width="0.9" />
<line x1="221.04" y1="96.90" x2="223.44" y2="96.90" stroke="#bf7a72" stroke-width="0.9" />
<line x1="231.67" y1="88.30" x2="231.67" y2="96.30" stroke="#bf7a72" stroke-width="0.85" />
<line x1="230.47" y1="88.30" x2="232.87" y2="88.30" stroke="#bf7a72" stroke-width="0.9" />
<line x1="230.47" y1="96.30" x2="232.87" y2="96.30" stroke="#bf7a72" stroke-width="0.9" />
<line x1="241.11" y1="88.80" x2="241.11" y2="97.40" stroke="#bf7a72" stroke-width="0.85" />
<line x1="239.91" y1="88.80" x2="242.31" y2="88.80" stroke="#bf7a72" stroke-width="0.9" />
<line x1="239.91" y1="97.40" x2="242.31" y2="97.40" stroke="#bf7a72" stroke-width="0.9" />
<line x1="250.55" y1="88.80" x2="250.55" y2="97.40" stroke="#bf7a72" stroke-width="0.85" />
<line x1="249.35" y1="88.80" x2="251.75" y2="88.80" stroke="#bf7a72" stroke-width="0.9" />
<line x1="249.35" y1="97.40" x2="251.75" y2="97.40" stroke="#bf7a72" stroke-width="0.9" />
<line x1="259.98" y1="88.80" x2="259.98" y2="97.40" stroke="#bf7a72" stroke-width="0.85" />
<line x1="258.78" y1="88.80" x2="261.18" y2="88.80" stroke="#bf7a72" stroke-width="0.9" />
<line x1="258.78" y1="97.40" x2="261.18" y2="97.40" stroke="#bf7a72" stroke-width="0.9" />
<line x1="269.42" y1="87.10" x2="269.42" y2="95.10" stroke="#bf7a72" stroke-width="0.85" />
<line x1="268.22" y1="87.10" x2="270.62" y2="87.10" stroke="#bf7a72" stroke-width="0.9" />
<line x1="268.22" y1="95.10" x2="270.62" y2="95.10" stroke="#bf7a72" stroke-width="0.9" />
<line x1="278.85" y1="87.50" x2="278.85" y2="95.50" stroke="#bf7a72" stroke-width="0.85" />
<line x1="277.65" y1="87.50" x2="280.05" y2="87.50" stroke="#bf7a72" stroke-width="0.9" />
<line x1="277.65" y1="95.50" x2="280.05" y2="95.50" stroke="#bf7a72" stroke-width="0.9" />
<line x1="288.29" y1="87.50" x2="288.29" y2="95.50" stroke="#bf7a72" stroke-width="0.85" />
<line x1="287.09" y1="87.50" x2="289.49" y2="87.50" stroke="#bf7a72" stroke-width="0.9" />
<line x1="287.09" y1="95.50" x2="289.49" y2="95.50" stroke="#bf7a72" stroke-width="0.9" />
<line x1="297.73" y1="87.50" x2="297.73" y2="95.50" stroke="#bf7a72" stroke-width="0.85" />
<line x1="296.53" y1="87.50" x2="298.93" y2="87.50" stroke="#bf7a72" stroke-width="0.9" />
<line x1="296.53" y1="95.50" x2="298.93" y2="95.50" stroke="#bf7a72" stroke-width="0.9" />
<line x1="307.16" y1="85.80" x2="307.16" y2="93.80" stroke="#bf7a72" stroke-width="0.85" />
<line x1="305.96" y1="85.80" x2="308.36" y2="85.80" stroke="#bf7a72" stroke-width="0.9" />
<line x1="305.96" y1="93.80" x2="308.36" y2="93.80" stroke="#bf7a72" stroke-width="0.9" />
<line x1="316.60" y1="87.00" x2="316.60" y2="95.00" stroke="#bf7a72" stroke-width="0.85" />
<line x1="315.40" y1="87.00" x2="317.80" y2="87.00" stroke="#bf7a72" stroke-width="0.9" />
<line x1="315.40" y1="95.00" x2="317.80" y2="95.00" stroke="#bf7a72" stroke-width="0.9" />
<line x1="212.80" y1="91.90" x2="212.80" y2="95.90" stroke="#767ea6" stroke-width="0.85" />
<line x1="211.60" y1="91.90" x2="214.00" y2="91.90" stroke="#767ea6" stroke-width="0.9" />
<line x1="211.60" y1="95.90" x2="214.00" y2="95.90" stroke="#767ea6" stroke-width="0.9" />
<line x1="222.24" y1="88.30" x2="222.24" y2="92.30" stroke="#767ea6" stroke-width="0.85" />
<line x1="221.04" y1="88.30" x2="223.44" y2="88.30" stroke="#767ea6" stroke-width="0.9" />
<line x1="221.04" y1="92.30" x2="223.44" y2="92.30" stroke="#767ea6" stroke-width="0.9" />
<line x1="231.67" y1="82.90" x2="231.67" y2="91.50" stroke="#767ea6" stroke-width="0.85" />
<line x1="230.47" y1="82.90" x2="232.87" y2="82.90" stroke="#767ea6" stroke-width="0.9" />
<line x1="230.47" y1="91.50" x2="232.87" y2="91.50" stroke="#767ea6" stroke-width="0.9" />
<line x1="241.11" y1="77.30" x2="241.11" y2="90.70" stroke="#767ea6" stroke-width="0.85" />
<line x1="239.91" y1="77.30" x2="242.31" y2="77.30" stroke="#767ea6" stroke-width="0.9" />
<line x1="239.91" y1="90.70" x2="242.31" y2="90.70" stroke="#767ea6" stroke-width="0.9" />
<line x1="250.55" y1="63.70" x2="250.55" y2="87.10" stroke="#767ea6" stroke-width="0.85" />
<line x1="249.35" y1="63.70" x2="251.75" y2="63.70" stroke="#767ea6" stroke-width="0.9" />
<line x1="249.35" y1="87.10" x2="251.75" y2="87.10" stroke="#767ea6" stroke-width="0.9" />
<line x1="259.98" y1="60.50" x2="259.98" y2="84.70" stroke="#767ea6" stroke-width="0.85" />
<line x1="258.78" y1="60.50" x2="261.18" y2="60.50" stroke="#767ea6" stroke-width="0.9" />
<line x1="258.78" y1="84.70" x2="261.18" y2="84.70" stroke="#767ea6" stroke-width="0.9" />
<line x1="269.42" y1="49.10" x2="269.42" y2="77.30" stroke="#767ea6" stroke-width="0.85" />
<line x1="268.22" y1="49.10" x2="270.62" y2="49.10" stroke="#767ea6" stroke-width="0.9" />
<line x1="268.22" y1="77.30" x2="270.62" y2="77.30" stroke="#767ea6" stroke-width="0.9" />
<line x1="278.85" y1="52.00" x2="278.85" y2="73.60" stroke="#767ea6" stroke-width="0.85" />
<line x1="277.65" y1="52.00" x2="280.05" y2="52.00" stroke="#767ea6" stroke-width="0.9" />
<line x1="277.65" y1="73.60" x2="280.05" y2="73.60" stroke="#767ea6" stroke-width="0.9" />
<line x1="288.29" y1="39.40" x2="288.29" y2="65.00" stroke="#767ea6" stroke-width="0.85" />
<line x1="287.09" y1="39.40" x2="289.49" y2="39.40" stroke="#767ea6" stroke-width="0.9" />
<line x1="287.09" y1="65.00" x2="289.49" y2="65.00" stroke="#767ea6" stroke-width="0.9" />
<line x1="297.73" y1="28.90" x2="297.73" y2="57.70" stroke="#767ea6" stroke-width="0.85" />
<line x1="296.53" y1="28.90" x2="298.93" y2="28.90" stroke="#767ea6" stroke-width="0.9" />
<line x1="296.53" y1="57.70" x2="298.93" y2="57.70" stroke="#767ea6" stroke-width="0.9" />
<line x1="307.16" y1="16.50" x2="307.16" y2="46.10" stroke="#767ea6" stroke-width="0.85" />
<line x1="305.96" y1="16.50" x2="308.36" y2="16.50" stroke="#767ea6" stroke-width="0.9" />
<line x1="305.96" y1="46.10" x2="308.36" y2="46.10" stroke="#767ea6" stroke-width="0.9" />
<polyline points="212.80,93.90 222.24,91.10 231.67,88.70 241.11,87.20 250.55,86.10 259.98,84.80 269.42,81.40 278.85,80.00 288.29,78.00 297.73,75.60 307.16,73.30 316.60,70.70" fill="none" stroke="#ebae38" stroke-width="1.35" stroke-linejoin="round" stroke-linecap="round"/>
<circle cx="212.80" cy="93.90" r="1.0" fill="#ebae38"/>
<circle cx="222.24" cy="91.10" r="1.0" fill="#ebae38"/>
<circle cx="231.67" cy="88.70" r="1.0" fill="#ebae38"/>
<circle cx="241.11" cy="87.20" r="1.0" fill="#ebae38"/>
<circle cx="250.55" cy="86.10" r="1.0" fill="#ebae38"/>
<circle cx="259.98" cy="84.80" r="1.0" fill="#ebae38"/>
<circle cx="269.42" cy="81.40" r="1.0" fill="#ebae38"/>
<circle cx="278.85" cy="80.00" r="1.0" fill="#ebae38"/>
<circle cx="288.29" cy="78.00" r="1.0" fill="#ebae38"/>
<circle cx="297.73" cy="75.60" r="1.0" fill="#ebae38"/>
<circle cx="307.16" cy="73.30" r="1.0" fill="#ebae38"/>
<circle cx="316.60" cy="70.70" r="1.0" fill="#ebae38"/>
<polyline points="212.80,93.90 222.24,93.40 231.67,92.30 241.11,93.10 250.55,93.10 259.98,93.10 269.42,91.10 278.85,91.50 288.29,91.50 297.73,91.50 307.16,89.80 316.60,91.00" fill="none" stroke="#d23b30" stroke-width="1.35" stroke-linejoin="round" stroke-linecap="round"/>
<circle cx="212.80" cy="93.90" r="1.0" fill="#d23b30"/>
<circle cx="222.24" cy="93.40" r="1.0" fill="#d23b30"/>
<circle cx="231.67" cy="92.30" r="1.0" fill="#d23b30"/>
<circle cx="241.11" cy="93.10" r="1.0" fill="#d23b30"/>
<circle cx="250.55" cy="93.10" r="1.0" fill="#d23b30"/>
<circle cx="259.98" cy="93.10" r="1.0" fill="#d23b30"/>
<circle cx="269.42" cy="91.10" r="1.0" fill="#d23b30"/>
<circle cx="278.85" cy="91.50" r="1.0" fill="#d23b30"/>
<circle cx="288.29" cy="91.50" r="1.0" fill="#d23b30"/>
<circle cx="297.73" cy="91.50" r="1.0" fill="#d23b30"/>
<circle cx="307.16" cy="89.80" r="1.0" fill="#d23b30"/>
<circle cx="316.60" cy="91.00" r="1.0" fill="#d23b30"/>
<polyline points="212.80,93.90 222.24,90.30 231.67,87.20 241.11,84.00 250.55,75.40 259.98,72.60 269.42,63.20 278.85,62.80 288.29,52.20 297.73,43.30 307.16,31.30" fill="none" stroke="#33437f" stroke-width="1.35" stroke-linejoin="round" stroke-linecap="round"/>
<circle cx="212.80" cy="93.90" r="1.0" fill="#33437f"/>
<circle cx="222.24" cy="90.30" r="1.0" fill="#33437f"/>
<circle cx="231.67" cy="87.20" r="1.0" fill="#33437f"/>
<circle cx="241.11" cy="84.00" r="1.0" fill="#33437f"/>
<circle cx="250.55" cy="75.40" r="1.0" fill="#33437f"/>
<circle cx="259.98" cy="72.60" r="1.0" fill="#33437f"/>
<circle cx="269.42" cy="63.20" r="1.0" fill="#33437f"/>
<circle cx="278.85" cy="62.80" r="1.0" fill="#33437f"/>
<circle cx="288.29" cy="52.20" r="1.0" fill="#33437f"/>
<circle cx="297.73" cy="43.30" r="1.0" fill="#33437f"/>
<circle cx="307.16" cy="31.30" r="1.0" fill="#33437f"/>
<polyline points="323.00,30.60 325.70,30.60 325.70,70.40 323.00,70.40" fill="none" stroke="#404040" stroke-width="0.9"/>
<text x="327.60" y="51.80" font-size="5.6" fill="#1c1c1c">**</text>
<polyline points="331.20,30.60 334.40,30.60 334.40,92.40 331.20,92.40" fill="none" stroke="#404040" stroke-width="0.9"/>
<text x="336.60" y="61.40" font-size="5.6" fill="#1c1c1c">***</text>
<line x1="385.20" y1="17.10" x2="385.20" y2="101.90" stroke="#555555" stroke-width="0.9" />
<line x1="385.20" y1="101.70" x2="499.60" y2="101.70" stroke="#555555" stroke-width="0.9" />
<line x1="383.40" y1="101.40" x2="385.20" y2="101.40" stroke="#555555" stroke-width="0.8" />
<text x="381.40" y="103.25" font-size="6.3" text-anchor="end" fill="#1c1c1c" font-weight="normal" transform="translate(0,-8.080) scale(1,1.08)" >0</text>
<line x1="383.40" y1="80.45" x2="385.20" y2="80.45" stroke="#555555" stroke-width="0.8" />
<text x="381.40" y="82.30" font-size="6.3" text-anchor="end" fill="#1c1c1c" font-weight="normal" transform="translate(0,-6.404) scale(1,1.08)" >500</text>
<line x1="383.40" y1="59.50" x2="385.20" y2="59.50" stroke="#555555" stroke-width="0.8" />
<text x="381.40" y="61.35" font-size="6.3" text-anchor="end" fill="#1c1c1c" font-weight="normal" transform="translate(0,-4.728) scale(1,1.08)" >1,000</text>
<line x1="383.40" y1="38.55" x2="385.20" y2="38.55" stroke="#555555" stroke-width="0.8" />
<text x="381.40" y="40.40" font-size="6.3" text-anchor="end" fill="#1c1c1c" font-weight="normal" transform="translate(0,-3.052) scale(1,1.08)" >1,500</text>
<line x1="383.40" y1="17.60" x2="385.20" y2="17.60" stroke="#555555" stroke-width="0.8" />
<text x="381.40" y="19.45" font-size="6.3" text-anchor="end" fill="#1c1c1c" font-weight="normal" transform="translate(0,-1.376) scale(1,1.08)" >2,000</text>
<line x1="390.20" y1="101.40" x2="390.20" y2="103.00" stroke="#555555" stroke-width="0.8" />
<text x="390.20" y="110.05" font-size="6.3" text-anchor="middle" fill="#1c1c1c" font-weight="normal" transform="translate(0,-8.624) scale(1,1.08)" >14</text>
<line x1="399.87" y1="101.40" x2="399.87" y2="103.00" stroke="#555555" stroke-width="0.8" />
<text x="399.87" y="110.05" font-size="6.3" text-anchor="middle" fill="#1c1c1c" font-weight="normal" transform="translate(0,-8.624) scale(1,1.08)" >20</text>
<line x1="409.55" y1="101.40" x2="409.55" y2="103.00" stroke="#555555" stroke-width="0.8" />
<text x="409.55" y="110.05" font-size="6.3" text-anchor="middle" fill="#1c1c1c" font-weight="normal" transform="translate(0,-8.624) scale(1,1.08)" >24</text>
<line x1="419.22" y1="101.40" x2="419.22" y2="103.00" stroke="#555555" stroke-width="0.8" />
<text x="419.22" y="110.05" font-size="6.3" text-anchor="middle" fill="#1c1c1c" font-weight="normal" transform="translate(0,-8.624) scale(1,1.08)" >28</text>
<line x1="428.89" y1="101.40" x2="428.89" y2="103.00" stroke="#555555" stroke-width="0.8" />
<text x="428.89" y="110.05" font-size="6.3" text-anchor="middle" fill="#1c1c1c" font-weight="normal" transform="translate(0,-8.624) scale(1,1.08)" >31</text>
<line x1="438.56" y1="101.40" x2="438.56" y2="103.00" stroke="#555555" stroke-width="0.8" />
<text x="438.56" y="110.05" font-size="6.3" text-anchor="middle" fill="#1c1c1c" font-weight="normal" transform="translate(0,-8.624) scale(1,1.08)" >33</text>
<line x1="448.24" y1="101.40" x2="448.24" y2="103.00" stroke="#555555" stroke-width="0.8" />
<text x="448.24" y="110.05" font-size="6.3" text-anchor="middle" fill="#1c1c1c" font-weight="normal" transform="translate(0,-8.624) scale(1,1.08)" >38</text>
<line x1="457.91" y1="101.40" x2="457.91" y2="103.00" stroke="#555555" stroke-width="0.8" />
<text x="457.91" y="110.05" font-size="6.3" text-anchor="middle" fill="#1c1c1c" font-weight="normal" transform="translate(0,-8.624) scale(1,1.08)" >42</text>
<line x1="467.58" y1="101.40" x2="467.58" y2="103.00" stroke="#555555" stroke-width="0.8" />
<text x="467.58" y="110.05" font-size="6.3" text-anchor="middle" fill="#1c1c1c" font-weight="normal" transform="translate(0,-8.624) scale(1,1.08)" >45</text>
<line x1="477.25" y1="101.40" x2="477.25" y2="103.00" stroke="#555555" stroke-width="0.8" />
<text x="477.25" y="110.05" font-size="6.3" text-anchor="middle" fill="#1c1c1c" font-weight="normal" transform="translate(0,-8.624) scale(1,1.08)" >49</text>
<line x1="486.93" y1="101.40" x2="486.93" y2="103.00" stroke="#555555" stroke-width="0.8" />
<text x="486.93" y="110.05" font-size="6.3" text-anchor="middle" fill="#1c1c1c" font-weight="normal" transform="translate(0,-8.624) scale(1,1.08)" >52</text>
<line x1="496.60" y1="101.40" x2="496.60" y2="103.00" stroke="#555555" stroke-width="0.8" />
<text x="496.60" y="110.05" font-size="6.3" text-anchor="middle" fill="#1c1c1c" font-weight="normal" transform="translate(0,-8.624) scale(1,1.08)" >56</text>
<text x="443.00" y="120.47" font-size="7.2" text-anchor="middle" fill="#1c1c1c" font-weight="normal" transform="translate(0,-9.432) scale(1,1.08)" >Days</text>
<text x="446.90" y="8.41" font-size="7.3" text-anchor="middle" fill="#1c1c1c" font-weight="normal" transform="translate(0,-0.464) scale(1,1.08)" >D538G</text>
<text x="356.50" y="9.38" font-size="10.6" text-anchor="start" fill="#111" font-weight="bold" transform="translate(0,-0.448) scale(1,1.08)" >C</text>
<g transform="translate(359.20,59.90) rotate(-90)">
<text x="0" y="2.50" font-size="7.0" text-anchor="middle" fill="#1c1c1c" >Tumor volume (mm<tspan font-size="4.20" dy="-2.52">3</tspan><tspan dy="2.52">)</tspan></text>
</g>
<line x1="388.20" y1="17.90" x2="392.80" y2="17.90" stroke="#33437f" stroke-width="1.1" />
<path d="M389.20,17.90 L390.50,16.90 L391.80,17.90 L390.50,18.90 Z" fill="#28356a"/>
<text x="394.20" y="19.34" font-size="5.15" text-anchor="start" fill="#1c1c1c" font-weight="normal" transform="translate(0,-1.400) scale(1,1.08)"  style="stroke-width:0.08px">Vehicle</text>
<line x1="388.20" y1="25.60" x2="392.80" y2="25.60" stroke="#ebae38" stroke-width="1.1" />
<path d="M389.20,25.60 L390.50,24.60 L391.80,25.60 L390.50,26.60 Z" fill="#b08040"/>
<text x="394.20" y="27.04" font-size="5.15" text-anchor="start" fill="#1c1c1c" font-weight="normal" transform="translate(0,-2.016) scale(1,1.08)"  style="stroke-width:0.08px">200 mg/kg ICI</text>
<line x1="388.20" y1="33.80" x2="392.80" y2="33.80" stroke="#d23b30" stroke-width="1.1" />
<path d="M389.20,33.80 L390.50,32.80 L391.80,33.80 L390.50,34.80 Z" fill="#9c3030"/>
<text x="394.20" y="35.24" font-size="5.15" text-anchor="start" fill="#1c1c1c" font-weight="normal" transform="translate(0,-2.672) scale(1,1.08)"  style="stroke-width:0.08px">15 mg/kg AZD9496</text>
<line x1="390.20" y1="91.30" x2="390.20" y2="95.30" stroke="#cfa270" stroke-width="0.85" />
<line x1="389.00" y1="91.30" x2="391.40" y2="91.30" stroke="#cfa270" stroke-width="0.9" />
<line x1="389.00" y1="95.30" x2="391.40" y2="95.30" stroke="#cfa270" stroke-width="0.9" />
<line x1="399.87" y1="84.50" x2="399.87" y2="91.50" stroke="#cfa270" stroke-width="0.85" />
<line x1="398.67" y1="84.50" x2="401.07" y2="84.50" stroke="#cfa270" stroke-width="0.9" />
<line x1="398.67" y1="91.50" x2="401.07" y2="91.50" stroke="#cfa270" stroke-width="0.9" />
<line x1="409.55" y1="78.80" x2="409.55" y2="90.00" stroke="#cfa270" stroke-width="0.85" />
<line x1="408.35" y1="78.80" x2="410.75" y2="78.80" stroke="#cfa270" stroke-width="0.9" />
<line x1="408.35" y1="90.00" x2="410.75" y2="90.00" stroke="#cfa270" stroke-width="0.9" />
<line x1="419.22" y1="73.00" x2="419.22" y2="92.80" stroke="#cfa270" stroke-width="0.85" />
<line x1="418.02" y1="73.00" x2="420.42" y2="73.00" stroke="#cfa270" stroke-width="0.9" />
<line x1="418.02" y1="92.80" x2="420.42" y2="92.80" stroke="#cfa270" stroke-width="0.9" />
<line x1="428.89" y1="71.70" x2="428.89" y2="90.70" stroke="#cfa270" stroke-width="0.85" />
<line x1="427.69" y1="71.70" x2="430.09" y2="71.70" stroke="#cfa270" stroke-width="0.9" />
<line x1="427.69" y1="90.70" x2="430.09" y2="90.70" stroke="#cfa270" stroke-width="0.9" />
<line x1="438.56" y1="72.10" x2="438.56" y2="90.10" stroke="#cfa270" stroke-width="0.85" />
<line x1="437.36" y1="72.10" x2="439.76" y2="72.10" stroke="#cfa270" stroke-width="0.9" />
<line x1="437.36" y1="90.10" x2="439.76" y2="90.10" stroke="#cfa270" stroke-width="0.9" />
<line x1="448.24" y1="69.00" x2="448.24" y2="91.00" stroke="#cfa270" stroke-width="0.85" />
<line x1="447.04" y1="69.00" x2="449.44" y2="69.00" stroke="#cfa270" stroke-width="0.9" />
<line x1="447.04" y1="91.00" x2="449.44" y2="91.00" stroke="#cfa270" stroke-width="0.9" />
<line x1="457.91" y1="67.00" x2="457.91" y2="94.00" stroke="#cfa270" stroke-width="0.85" />
<line x1="456.71" y1="67.00" x2="459.11" y2="67.00" stroke="#cfa270" stroke-width="0.9" />
<line x1="456.71" y1="94.00" x2="459.11" y2="94.00" stroke="#cfa270" stroke-width="0.9" />
<line x1="467.58" y1="73.80" x2="467.58" y2="94.20" stroke="#cfa270" stroke-width="0.85" />
<line x1="466.38" y1="73.80" x2="468.78" y2="73.80" stroke="#cfa270" stroke-width="0.9" />
<line x1="466.38" y1="94.20" x2="468.78" y2="94.20" stroke="#cfa270" stroke-width="0.9" />
<line x1="477.25" y1="75.20" x2="477.25" y2="95.20" stroke="#cfa270" stroke-width="0.85" />
<line x1="476.05" y1="75.20" x2="478.45" y2="75.20" stroke="#cfa270" stroke-width="0.9" />
<line x1="476.05" y1="95.20" x2="478.45" y2="95.20" stroke="#cfa270" stroke-width="0.9" />
<line x1="486.93" y1="76.70" x2="486.93" y2="96.30" stroke="#cfa270" stroke-width="0.85" />
<line x1="485.73" y1="76.70" x2="488.13" y2="76.70" stroke="#cfa270" stroke-width="0.9" />
<line x1="485.73" y1="96.30" x2="488.13" y2="96.30" stroke="#cfa270" stroke-width="0.9" />
<line x1="496.60" y1="79.00" x2="496.60" y2="95.00" stroke="#cfa270" stroke-width="0.85" />
<line x1="495.40" y1="79.00" x2="497.80" y2="79.00" stroke="#cfa270" stroke-width="0.9" />
<line x1="495.40" y1="95.00" x2="497.80" y2="95.00" stroke="#cfa270" stroke-width="0.9" />
<line x1="390.20" y1="91.30" x2="390.20" y2="95.30" stroke="#bf7a72" stroke-width="0.85" />
<line x1="389.00" y1="91.30" x2="391.40" y2="91.30" stroke="#bf7a72" stroke-width="0.9" />
<line x1="389.00" y1="95.30" x2="391.40" y2="95.30" stroke="#bf7a72" stroke-width="0.9" />
<line x1="399.87" y1="90.10" x2="399.87" y2="94.10" stroke="#bf7a72" stroke-width="0.85" />
<line x1="398.67" y1="90.10" x2="401.07" y2="90.10" stroke="#bf7a72" stroke-width="0.9" />
<line x1="398.67" y1="94.10" x2="401.07" y2="94.10" stroke="#bf7a72" stroke-width="0.9" />
<line x1="409.55" y1="88.50" x2="409.55" y2="93.50" stroke="#bf7a72" stroke-width="0.85" />
<line x1="408.35" y1="88.50" x2="410.75" y2="88.50" stroke="#bf7a72" stroke-width="0.9" />
<line x1="408.35" y1="93.50" x2="410.75" y2="93.50" stroke="#bf7a72" stroke-width="0.9" />
<line x1="419.22" y1="88.10" x2="419.22" y2="93.90" stroke="#bf7a72" stroke-width="0.85" />
<line x1="418.02" y1="88.10" x2="420.42" y2="88.10" stroke="#bf7a72" stroke-width="0.9" />
<line x1="418.02" y1="93.90" x2="420.42" y2="93.90" stroke="#bf7a72" stroke-width="0.9" />
<line x1="428.89" y1="88.10" x2="428.89" y2="93.90" stroke="#bf7a72" stroke-width="0.85" />
<line x1="427.69" y1="88.10" x2="430.09" y2="88.10" stroke="#bf7a72" stroke-width="0.9" />
<line x1="427.69" y1="93.90" x2="430.09" y2="93.90" stroke="#bf7a72" stroke-width="0.9" />
<line x1="438.56" y1="88.00" x2="438.56" y2="94.00" stroke="#bf7a72" stroke-width="0.85" />
<line x1="437.36" y1="88.00" x2="439.76" y2="88.00" stroke="#bf7a72" stroke-width="0.9" />
<line x1="437.36" y1="94.00" x2="439.76" y2="94.00" stroke="#bf7a72" stroke-width="0.9" />
<line x1="448.24" y1="87.80" x2="448.24" y2="93.80" stroke="#bf7a72" stroke-width="0.85" />
<line x1="447.04" y1="87.80" x2="449.44" y2="87.80" stroke="#bf7a72" stroke-width="0.9" />
<line x1="447.04" y1="93.80" x2="449.44" y2="93.80" stroke="#bf7a72" stroke-width="0.9" />
<line x1="457.91" y1="89.20" x2="457.91" y2="95.20" stroke="#bf7a72" stroke-width="0.85" />
<line x1="456.71" y1="89.20" x2="459.11" y2="89.20" stroke="#bf7a72" stroke-width="0.9" />
<line x1="456.71" y1="95.20" x2="459.11" y2="95.20" stroke="#bf7a72" stroke-width="0.9" />
<line x1="467.58" y1="89.30" x2="467.58" y2="95.30" stroke="#bf7a72" stroke-width="0.85" />
<line x1="466.38" y1="89.30" x2="468.78" y2="89.30" stroke="#bf7a72" stroke-width="0.9" />
<line x1="466.38" y1="95.30" x2="468.78" y2="95.30" stroke="#bf7a72" stroke-width="0.9" />
<line x1="477.25" y1="89.40" x2="477.25" y2="95.40" stroke="#bf7a72" stroke-width="0.85" />
<line x1="476.05" y1="89.40" x2="478.45" y2="89.40" stroke="#bf7a72" stroke-width="0.9" />
<line x1="476.05" y1="95.40" x2="478.45" y2="95.40" stroke="#bf7a72" stroke-width="0.9" />
<line x1="486.93" y1="89.00" x2="486.93" y2="95.00" stroke="#bf7a72" stroke-width="0.85" />
<line x1="485.73" y1="89.00" x2="488.13" y2="89.00" stroke="#bf7a72" stroke-width="0.9" />
<line x1="485.73" y1="95.00" x2="488.13" y2="95.00" stroke="#bf7a72" stroke-width="0.9" />
<line x1="496.60" y1="89.30" x2="496.60" y2="95.30" stroke="#bf7a72" stroke-width="0.85" />
<line x1="495.40" y1="89.30" x2="497.80" y2="89.30" stroke="#bf7a72" stroke-width="0.9" />
<line x1="495.40" y1="95.30" x2="497.80" y2="95.30" stroke="#bf7a72" stroke-width="0.9" />
<line x1="390.20" y1="91.30" x2="390.20" y2="95.30" stroke="#767ea6" stroke-width="0.85" />
<line x1="389.00" y1="91.30" x2="391.40" y2="91.30" stroke="#767ea6" stroke-width="0.9" />
<line x1="389.00" y1="95.30" x2="391.40" y2="95.30" stroke="#767ea6" stroke-width="0.9" />
<line x1="399.87" y1="85.60" x2="399.87" y2="91.60" stroke="#767ea6" stroke-width="0.85" />
<line x1="398.67" y1="85.60" x2="401.07" y2="85.60" stroke="#767ea6" stroke-width="0.9" />
<line x1="398.67" y1="91.60" x2="401.07" y2="91.60" stroke="#767ea6" stroke-width="0.9" />
<line x1="409.55" y1="78.30" x2="409.55" y2="89.70" stroke="#767ea6" stroke-width="0.85" />
<line x1="408.35" y1="78.30" x2="410.75" y2="78.30" stroke="#767ea6" stroke-width="0.9" />
<line x1="408.35" y1="89.70" x2="410.75" y2="89.70" stroke="#767ea6" stroke-width="0.9" />
<line x1="419.22" y1="72.50" x2="419.22" y2="88.70" stroke="#767ea6" stroke-width="0.85" />
<line x1="418.02" y1="72.50" x2="420.42" y2="72.50" stroke="#767ea6" stroke-width="0.9" />
<line x1="418.02" y1="88.70" x2="420.42" y2="88.70" stroke="#767ea6" stroke-width="0.9" />
<line x1="428.89" y1="61.30" x2="428.89" y2="83.70" stroke="#767ea6" stroke-width="0.85" />
<line x1="427.69" y1="61.30" x2="430.09" y2="61.30" stroke="#767ea6" stroke-width="0.9" />
<line x1="427.69" y1="83.70" x2="430.09" y2="83.70" stroke="#767ea6" stroke-width="0.9" />
<line x1="438.56" y1="58.30" x2="438.56" y2="79.70" stroke="#767ea6" stroke-width="0.85" />
<line x1="437.36" y1="58.30" x2="439.76" y2="58.30" stroke="#767ea6" stroke-width="0.9" />
<line x1="437.36" y1="79.70" x2="439.76" y2="79.70" stroke="#767ea6" stroke-width="0.9" />
<line x1="448.24" y1="47.20" x2="448.24" y2="68.80" stroke="#767ea6" stroke-width="0.85" />
<line x1="447.04" y1="47.20" x2="449.44" y2="47.20" stroke="#767ea6" stroke-width="0.9" />
<line x1="447.04" y1="68.80" x2="449.44" y2="68.80" stroke="#767ea6" stroke-width="0.9" />
<line x1="457.91" y1="47.10" x2="457.91" y2="67.90" stroke="#767ea6" stroke-width="0.85" />
<line x1="456.71" y1="47.10" x2="459.11" y2="47.10" stroke="#767ea6" stroke-width="0.9" />
<line x1="456.71" y1="67.90" x2="459.11" y2="67.90" stroke="#767ea6" stroke-width="0.9" />
<line x1="467.58" y1="37.70" x2="467.58" y2="58.90" stroke="#767ea6" stroke-width="0.85" />
<line x1="466.38" y1="37.70" x2="468.78" y2="37.70" stroke="#767ea6" stroke-width="0.9" />
<line x1="466.38" y1="58.90" x2="468.78" y2="58.90" stroke="#767ea6" stroke-width="0.9" />
<line x1="477.25" y1="22.50" x2="477.25" y2="52.90" stroke="#767ea6" stroke-width="0.85" />
<line x1="476.05" y1="22.50" x2="478.45" y2="22.50" stroke="#767ea6" stroke-width="0.9" />
<line x1="476.05" y1="52.90" x2="478.45" y2="52.90" stroke="#767ea6" stroke-width="0.9" />
<line x1="486.93" y1="17.20" x2="486.93" y2="47.80" stroke="#767ea6" stroke-width="0.85" />
<line x1="485.73" y1="17.20" x2="488.13" y2="17.20" stroke="#767ea6" stroke-width="0.9" />
<line x1="485.73" y1="47.80" x2="488.13" y2="47.80" stroke="#767ea6" stroke-width="0.9" />
<polyline points="390.20,93.30 399.87,88.00 409.55,84.40 419.22,82.90 428.89,81.70 438.56,81.10 448.24,81.00 457.91,82.00 467.58,84.00 477.25,85.20 486.93,86.50 496.60,87.00" fill="none" stroke="#ebae38" stroke-width="1.35" stroke-linejoin="round" stroke-linecap="round"/>
<circle cx="390.20" cy="93.30" r="1.0" fill="#ebae38"/>
<circle cx="399.87" cy="88.00" r="1.0" fill="#ebae38"/>
<circle cx="409.55" cy="84.40" r="1.0" fill="#ebae38"/>
<circle cx="419.22" cy="82.90" r="1.0" fill="#ebae38"/>
<circle cx="428.89" cy="81.70" r="1.0" fill="#ebae38"/>
<circle cx="438.56" cy="81.10" r="1.0" fill="#ebae38"/>
<circle cx="448.24" cy="81.00" r="1.0" fill="#ebae38"/>
<circle cx="457.91" cy="82.00" r="1.0" fill="#ebae38"/>
<circle cx="467.58" cy="84.00" r="1.0" fill="#ebae38"/>
<circle cx="477.25" cy="85.20" r="1.0" fill="#ebae38"/>
<circle cx="486.93" cy="86.50" r="1.0" fill="#ebae38"/>
<circle cx="496.60" cy="87.00" r="1.0" fill="#ebae38"/>
<polyline points="390.20,93.30 399.87,92.10 409.55,91.00 419.22,91.00 428.89,91.00 438.56,91.00 448.24,90.80 457.91,92.20 467.58,92.30 477.25,92.40 486.93,92.00 496.60,92.30" fill="none" stroke="#d23b30" stroke-width="1.35" stroke-linejoin="round" stroke-linecap="round"/>
<circle cx="390.20" cy="93.30" r="1.0" fill="#d23b30"/>
<circle cx="399.87" cy="92.10" r="1.0" fill="#d23b30"/>
<circle cx="409.55" cy="91.00" r="1.0" fill="#d23b30"/>
<circle cx="419.22" cy="91.00" r="1.0" fill="#d23b30"/>
<circle cx="428.89" cy="91.00" r="1.0" fill="#d23b30"/>
<circle cx="438.56" cy="91.00" r="1.0" fill="#d23b30"/>
<circle cx="448.24" cy="90.80" r="1.0" fill="#d23b30"/>
<circle cx="457.91" cy="92.20" r="1.0" fill="#d23b30"/>
<circle cx="467.58" cy="92.30" r="1.0" fill="#d23b30"/>
<circle cx="477.25" cy="92.40" r="1.0" fill="#d23b30"/>
<circle cx="486.93" cy="92.00" r="1.0" fill="#d23b30"/>
<circle cx="496.60" cy="92.30" r="1.0" fill="#d23b30"/>
<polyline points="390.20,93.30 399.87,88.60 409.55,84.00 419.22,80.60 428.89,72.50 438.56,69.00 448.24,58.00 457.91,57.50 467.58,48.30 477.25,37.70 486.93,25.40" fill="none" stroke="#33437f" stroke-width="1.35" stroke-linejoin="round" stroke-linecap="round"/>
<circle cx="390.20" cy="93.30" r="1.0" fill="#33437f"/>
<circle cx="399.87" cy="88.60" r="1.0" fill="#33437f"/>
<circle cx="409.55" cy="84.00" r="1.0" fill="#33437f"/>
<circle cx="419.22" cy="80.60" r="1.0" fill="#33437f"/>
<circle cx="428.89" cy="72.50" r="1.0" fill="#33437f"/>
<circle cx="438.56" cy="69.00" r="1.0" fill="#33437f"/>
<circle cx="448.24" cy="58.00" r="1.0" fill="#33437f"/>
<circle cx="457.91" cy="57.50" r="1.0" fill="#33437f"/>
<circle cx="467.58" cy="48.30" r="1.0" fill="#33437f"/>
<circle cx="477.25" cy="37.70" r="1.0" fill="#33437f"/>
<circle cx="486.93" cy="25.40" r="1.0" fill="#33437f"/>
<polyline points="499.60,25.60 502.60,25.60 502.60,86.60 499.60,86.60" fill="none" stroke="#404040" stroke-width="0.9"/>
<text x="503.80" y="59.20" font-size="5.6" fill="#1c1c1c">***</text>
<polyline points="508.60,25.60 511.30,25.60 511.30,93.60 508.60,93.60" fill="none" stroke="#404040" stroke-width="0.9"/>
<text x="513.40" y="63.20" font-size="5.6" fill="#1c1c1c">***</text>
<line x1="37.00" y1="148.80" x2="37.00" y2="244.40" stroke="#555555" stroke-width="0.9" />
<line x1="37.00" y1="244.20" x2="155.30" y2="244.20" stroke="#555555" stroke-width="0.9" />
<line x1="35.20" y1="243.90" x2="37.00" y2="243.90" stroke="#555555" stroke-width="0.8" />
<text x="34.00" y="245.75" font-size="6.3" text-anchor="end" fill="#1c1c1c" font-weight="normal" transform="translate(0,-19.480) scale(1,1.08)" >0</text>
<line x1="35.20" y1="220.25" x2="37.00" y2="220.25" stroke="#555555" stroke-width="0.8" />
<text x="34.00" y="222.10" font-size="6.3" text-anchor="end" fill="#1c1c1c" font-weight="normal" transform="translate(0,-17.588) scale(1,1.08)" >500</text>
<line x1="35.20" y1="196.60" x2="37.00" y2="196.60" stroke="#555555" stroke-width="0.8" />
<text x="34.00" y="198.45" font-size="6.3" text-anchor="end" fill="#1c1c1c" font-weight="normal" transform="translate(0,-15.696) scale(1,1.08)" >1,000</text>
<line x1="35.20" y1="172.95" x2="37.00" y2="172.95" stroke="#555555" stroke-width="0.8" />
<text x="34.00" y="174.80" font-size="6.3" text-anchor="end" fill="#1c1c1c" font-weight="normal" transform="translate(0,-13.804) scale(1,1.08)" >1,500</text>
<line x1="35.20" y1="149.30" x2="37.00" y2="149.30" stroke="#555555" stroke-width="0.8" />
<text x="34.00" y="151.15" font-size="6.3" text-anchor="end" fill="#1c1c1c" font-weight="normal" transform="translate(0,-11.912) scale(1,1.08)" >2,000</text>
<line x1="41.30" y1="243.90" x2="41.30" y2="245.50" stroke="#555555" stroke-width="0.8" />
<text x="41.30" y="252.05" font-size="6.3" text-anchor="middle" fill="#1c1c1c" font-weight="normal" transform="translate(0,-19.984) scale(1,1.08)" >15</text>
<line x1="49.80" y1="243.90" x2="49.80" y2="245.50" stroke="#555555" stroke-width="0.8" />
<text x="49.80" y="252.05" font-size="6.3" text-anchor="middle" fill="#1c1c1c" font-weight="normal" transform="translate(0,-19.984) scale(1,1.08)" >18</text>
<line x1="58.30" y1="243.90" x2="58.30" y2="245.50" stroke="#555555" stroke-width="0.8" />
<text x="58.30" y="252.05" font-size="6.3" text-anchor="middle" fill="#1c1c1c" font-weight="normal" transform="translate(0,-19.984) scale(1,1.08)" >21</text>
<line x1="66.80" y1="243.90" x2="66.80" y2="245.50" stroke="#555555" stroke-width="0.8" />
<text x="66.80" y="252.05" font-size="6.3" text-anchor="middle" fill="#1c1c1c" font-weight="normal" transform="translate(0,-19.984) scale(1,1.08)" >25</text>
<line x1="75.30" y1="243.90" x2="75.30" y2="245.50" stroke="#555555" stroke-width="0.8" />
<text x="75.30" y="252.05" font-size="6.3" text-anchor="middle" fill="#1c1c1c" font-weight="normal" transform="translate(0,-19.984) scale(1,1.08)" >28</text>
<line x1="83.80" y1="243.90" x2="83.80" y2="245.50" stroke="#555555" stroke-width="0.8" />
<text x="83.80" y="252.05" font-size="6.3" text-anchor="middle" fill="#1c1c1c" font-weight="normal" transform="translate(0,-19.984) scale(1,1.08)" >32</text>
<line x1="92.30" y1="243.90" x2="92.30" y2="245.50" stroke="#555555" stroke-width="0.8" />
<text x="92.30" y="252.05" font-size="6.3" text-anchor="middle" fill="#1c1c1c" font-weight="normal" transform="translate(0,-19.984) scale(1,1.08)" >35</text>
<line x1="100.80" y1="243.90" x2="100.80" y2="245.50" stroke="#555555" stroke-width="0.8" />
<text x="100.80" y="252.05" font-size="6.3" text-anchor="middle" fill="#1c1c1c" font-weight="normal" transform="translate(0,-19.984) scale(1,1.08)" >39</text>
<line x1="109.30" y1="243.90" x2="109.30" y2="245.50" stroke="#555555" stroke-width="0.8" />
<text x="109.30" y="252.05" font-size="6.3" text-anchor="middle" fill="#1c1c1c" font-weight="normal" transform="translate(0,-19.984) scale(1,1.08)" >42</text>
<line x1="117.80" y1="243.90" x2="117.80" y2="245.50" stroke="#555555" stroke-width="0.8" />
<text x="117.80" y="252.05" font-size="6.3" text-anchor="middle" fill="#1c1c1c" font-weight="normal" transform="translate(0,-19.984) scale(1,1.08)" >46</text>
<line x1="126.30" y1="243.90" x2="126.30" y2="245.50" stroke="#555555" stroke-width="0.8" />
<text x="126.30" y="252.05" font-size="6.3" text-anchor="middle" fill="#1c1c1c" font-weight="normal" transform="translate(0,-19.984) scale(1,1.08)" >49</text>
<line x1="134.80" y1="243.90" x2="134.80" y2="245.50" stroke="#555555" stroke-width="0.8" />
<text x="134.80" y="252.05" font-size="6.3" text-anchor="middle" fill="#1c1c1c" font-weight="normal" transform="translate(0,-19.984) scale(1,1.08)" >53</text>
<line x1="143.30" y1="243.90" x2="143.30" y2="245.50" stroke="#555555" stroke-width="0.8" />
<text x="143.30" y="252.05" font-size="6.3" text-anchor="middle" fill="#1c1c1c" font-weight="normal" transform="translate(0,-19.984) scale(1,1.08)" >57</text>
<line x1="151.80" y1="243.90" x2="151.80" y2="245.50" stroke="#555555" stroke-width="0.8" />
<text x="151.80" y="252.05" font-size="6.3" text-anchor="middle" fill="#1c1c1c" font-weight="normal" transform="translate(0,-19.984) scale(1,1.08)" >60</text>
<text x="96.40" y="261.37" font-size="7.2" text-anchor="middle" fill="#1c1c1c" font-weight="normal" transform="translate(0,-20.704) scale(1,1.08)" >Days</text>
<text x="96.80" y="139.11" font-size="7.3" text-anchor="middle" fill="#1c1c1c" font-weight="normal" transform="translate(0,-10.920) scale(1,1.08)" >E380Q</text>
<text x="2.00" y="142.38" font-size="10.6" text-anchor="start" fill="#111" font-weight="bold" transform="translate(0,-11.088) scale(1,1.08)" >D</text>
<g transform="translate(9.70,196.30) rotate(-90)">
<text x="0" y="2.61" font-size="7.3" text-anchor="middle" fill="#1c1c1c" >Tumor volume (mm<tspan font-size="4.38" dy="-2.63">3</tspan><tspan dy="2.63">)</tspan></text>
</g>
<line x1="39.70" y1="147.60" x2="44.30" y2="147.60" stroke="#33437f" stroke-width="1.1" />
<path d="M40.70,147.60 L42.00,146.60 L43.30,147.60 L42.00,148.60 Z" fill="#28356a"/>
<text x="45.60" y="149.04" font-size="5.15" text-anchor="start" fill="#1c1c1c" font-weight="normal" transform="translate(0,-11.776) scale(1,1.08)"  style="stroke-width:0.08px">Vehicle</text>
<line x1="39.70" y1="155.00" x2="44.30" y2="155.00" stroke="#ebae38" stroke-width="1.1" />
<path d="M40.70,155.00 L42.00,154.00 L43.30,155.00 L42.00,156.00 Z" fill="#b08040"/>
<text x="45.60" y="156.44" font-size="5.15" text-anchor="start" fill="#1c1c1c" font-weight="normal" transform="translate(0,-12.368) scale(1,1.08)"  style="stroke-width:0.08px">200 mg/kg ICI</text>
<line x1="39.70" y1="162.70" x2="44.30" y2="162.70" stroke="#d23b30" stroke-width="1.1" />
<path d="M40.70,162.70 L42.00,161.70 L43.30,162.70 L42.00,163.70 Z" fill="#9c3030"/>
<text x="45.60" y="164.14" font-size="5.15" text-anchor="start" fill="#1c1c1c" font-weight="normal" transform="translate(0,-12.984) scale(1,1.08)"  style="stroke-width:0.08px">15 mg/kg AZD9496</text>
<line x1="41.30" y1="228.00" x2="41.30" y2="238.00" stroke="#cfa270" stroke-width="0.85" />
<line x1="40.10" y1="228.00" x2="42.50" y2="228.00" stroke="#cfa270" stroke-width="0.9" />
<line x1="40.10" y1="238.00" x2="42.50" y2="238.00" stroke="#cfa270" stroke-width="0.9" />
<line x1="49.80" y1="224.00" x2="49.80" y2="234.00" stroke="#cfa270" stroke-width="0.85" />
<line x1="48.60" y1="224.00" x2="51.00" y2="224.00" stroke="#cfa270" stroke-width="0.9" />
<line x1="48.60" y1="234.00" x2="51.00" y2="234.00" stroke="#cfa270" stroke-width="0.9" />
<line x1="58.30" y1="219.40" x2="58.30" y2="232.40" stroke="#cfa270" stroke-width="0.85" />
<line x1="57.10" y1="219.40" x2="59.50" y2="219.40" stroke="#cfa270" stroke-width="0.9" />
<line x1="57.10" y1="232.40" x2="59.50" y2="232.40" stroke="#cfa270" stroke-width="0.9" />
<line x1="66.80" y1="214.30" x2="66.80" y2="231.30" stroke="#cfa270" stroke-width="0.85" />
<line x1="65.60" y1="214.30" x2="68.00" y2="214.30" stroke="#cfa270" stroke-width="0.9" />
<line x1="65.60" y1="231.30" x2="68.00" y2="231.30" stroke="#cfa270" stroke-width="0.9" />
<line x1="75.30" y1="211.80" x2="75.30" y2="229.00" stroke="#cfa270" stroke-width="0.85" />
<line x1="74.10" y1="211.80" x2="76.50" y2="211.80" stroke="#cfa270" stroke-width="0.9" />
<line x1="74.10" y1="229.00" x2="76.50" y2="229.00" stroke="#cfa270" stroke-width="0.9" />
<line x1="83.80" y1="210.20" x2="83.80" y2="226.80" stroke="#cfa270" stroke-width="0.85" />
<line x1="82.60" y1="210.20" x2="85.00" y2="210.20" stroke="#cfa270" stroke-width="0.9" />
<line x1="82.60" y1="226.80" x2="85.00" y2="226.80" stroke="#cfa270" stroke-width="0.9" />
<line x1="92.30" y1="212.30" x2="92.30" y2="222.50" stroke="#cfa270" stroke-width="0.85" />
<line x1="91.10" y1="212.30" x2="93.50" y2="212.30" stroke="#cfa270" stroke-width="0.9" />
<line x1="91.10" y1="222.50" x2="93.50" y2="222.50" stroke="#cfa270" stroke-width="0.9" />
<line x1="100.80" y1="211.20" x2="100.80" y2="223.60" stroke="#cfa270" stroke-width="0.85" />
<line x1="99.60" y1="211.20" x2="102.00" y2="211.20" stroke="#cfa270" stroke-width="0.9" />
<line x1="99.60" y1="223.60" x2="102.00" y2="223.60" stroke="#cfa270" stroke-width="0.9" />
<line x1="109.30" y1="212.30" x2="109.30" y2="227.30" stroke="#cfa270" stroke-width="0.85" />
<line x1="108.10" y1="212.30" x2="110.50" y2="212.30" stroke="#cfa270" stroke-width="0.9" />
<line x1="108.10" y1="227.30" x2="110.50" y2="227.30" stroke="#cfa270" stroke-width="0.9" />
<line x1="117.80" y1="215.20" x2="117.80" y2="229.00" stroke="#cfa270" stroke-width="0.85" />
<line x1="116.60" y1="215.20" x2="119.00" y2="215.20" stroke="#cfa270" stroke-width="0.9" />
<line x1="116.60" y1="229.00" x2="119.00" y2="229.00" stroke="#cfa270" stroke-width="0.9" />
<line x1="126.30" y1="220.70" x2="126.30" y2="232.30" stroke="#cfa270" stroke-width="0.85" />
<line x1="125.10" y1="220.70" x2="127.50" y2="220.70" stroke="#cfa270" stroke-width="0.9" />
<line x1="125.10" y1="232.30" x2="127.50" y2="232.30" stroke="#cfa270" stroke-width="0.9" />
<line x1="134.80" y1="223.10" x2="134.80" y2="235.50" stroke="#cfa270" stroke-width="0.85" />
<line x1="133.60" y1="223.10" x2="136.00" y2="223.10" stroke="#cfa270" stroke-width="0.9" />
<line x1="133.60" y1="235.50" x2="136.00" y2="235.50" stroke="#cfa270" stroke-width="0.9" />
<line x1="143.30" y1="224.60" x2="143.30" y2="237.00" stroke="#cfa270" stroke-width="0.85" />
<line x1="142.10" y1="224.60" x2="144.50" y2="224.60" stroke="#cfa270" stroke-width="0.9" />
<line x1="142.10" y1="237.00" x2="144.50" y2="237.00" stroke="#cfa270" stroke-width="0.9" />
<line x1="151.80" y1="226.00" x2="151.80" y2="238.40" stroke="#cfa270" stroke-width="0.85" />
<line x1="150.60" y1="226.00" x2="153.00" y2="226.00" stroke="#cfa270" stroke-width="0.9" />
<line x1="150.60" y1="238.40" x2="153.00" y2="238.40" stroke="#cfa270" stroke-width="0.9" />
<line x1="41.30" y1="228.50" x2="41.30" y2="237.50" stroke="#bf7a72" stroke-width="0.85" />
<line x1="40.10" y1="228.50" x2="42.50" y2="228.50" stroke="#bf7a72" stroke-width="0.9" />
<line x1="40.10" y1="237.50" x2="42.50" y2="237.50" stroke="#bf7a72" stroke-width="0.9" />
<line x1="49.80" y1="226.10" x2="49.80" y2="235.10" stroke="#bf7a72" stroke-width="0.85" />
<line x1="48.60" y1="226.10" x2="51.00" y2="226.10" stroke="#bf7a72" stroke-width="0.9" />
<line x1="48.60" y1="235.10" x2="51.00" y2="235.10" stroke="#bf7a72" stroke-width="0.9" />
<line x1="58.30" y1="224.70" x2="58.30" y2="234.30" stroke="#bf7a72" stroke-width="0.85" />
<line x1="57.10" y1="224.70" x2="59.50" y2="224.70" stroke="#bf7a72" stroke-width="0.9" />
<line x1="57.10" y1="234.30" x2="59.50" y2="234.30" stroke="#bf7a72" stroke-width="0.9" />
<line x1="66.80" y1="225.10" x2="66.80" y2="234.50" stroke="#bf7a72" stroke-width="0.85" />
<line x1="65.60" y1="225.10" x2="68.00" y2="225.10" stroke="#bf7a72" stroke-width="0.9" />
<line x1="65.60" y1="234.50" x2="68.00" y2="234.50" stroke="#bf7a72" stroke-width="0.9" />
<line x1="75.30" y1="225.60" x2="75.30" y2="235.60" stroke="#bf7a72" stroke-width="0.85" />
<line x1="74.10" y1="225.60" x2="76.50" y2="225.60" stroke="#bf7a72" stroke-width="0.9" />
<line x1="74.10" y1="235.60" x2="76.50" y2="235.60" stroke="#bf7a72" stroke-width="0.9" />
<line x1="83.80" y1="227.10" x2="83.80" y2="236.30" stroke="#bf7a72" stroke-width="0.85" />
<line x1="82.60" y1="227.10" x2="85.00" y2="227.10" stroke="#bf7a72" stroke-width="0.9" />
<line x1="82.60" y1="236.30" x2="85.00" y2="236.30" stroke="#bf7a72" stroke-width="0.9" />
<line x1="92.30" y1="227.70" x2="92.30" y2="236.70" stroke="#bf7a72" stroke-width="0.85" />
<line x1="91.10" y1="227.70" x2="93.50" y2="227.70" stroke="#bf7a72" stroke-width="0.9" />
<line x1="91.10" y1="236.70" x2="93.50" y2="236.70" stroke="#bf7a72" stroke-width="0.9" />
<line x1="100.80" y1="228.30" x2="100.80" y2="237.30" stroke="#bf7a72" stroke-width="0.85" />
<line x1="99.60" y1="228.30" x2="102.00" y2="228.30" stroke="#bf7a72" stroke-width="0.9" />
<line x1="99.60" y1="237.30" x2="102.00" y2="237.30" stroke="#bf7a72" stroke-width="0.9" />
<line x1="109.30" y1="228.70" x2="109.30" y2="237.70" stroke="#bf7a72" stroke-width="0.85" />
<line x1="108.10" y1="228.70" x2="110.50" y2="228.70" stroke="#bf7a72" stroke-width="0.9" />
<line x1="108.10" y1="237.70" x2="110.50" y2="237.70" stroke="#bf7a72" stroke-width="0.9" />
<line x1="117.80" y1="229.20" x2="117.80" y2="238.20" stroke="#bf7a72" stroke-width="0.85" />
<line x1="116.60" y1="229.20" x2="119.00" y2="229.20" stroke="#bf7a72" stroke-width="0.9" />
<line x1="116.60" y1="238.20" x2="119.00" y2="238.20" stroke="#bf7a72" stroke-width="0.9" />
<line x1="126.30" y1="229.50" x2="126.30" y2="238.50" stroke="#bf7a72" stroke-width="0.85" />
<line x1="125.10" y1="229.50" x2="127.50" y2="229.50" stroke="#bf7a72" stroke-width="0.9" />
<line x1="125.10" y1="238.50" x2="127.50" y2="238.50" stroke="#bf7a72" stroke-width="0.9" />
<line x1="134.80" y1="229.50" x2="134.80" y2="238.50" stroke="#bf7a72" stroke-width="0.85" />
<line x1="133.60" y1="229.50" x2="136.00" y2="229.50" stroke="#bf7a72" stroke-width="0.9" />
<line x1="133.60" y1="238.50" x2="136.00" y2="238.50" stroke="#bf7a72" stroke-width="0.9" />
<line x1="143.30" y1="228.80" x2="143.30" y2="236.80" stroke="#bf7a72" stroke-width="0.85" />
<line x1="142.10" y1="228.80" x2="144.50" y2="228.80" stroke="#bf7a72" stroke-width="0.9" />
<line x1="142.10" y1="236.80" x2="144.50" y2="236.80" stroke="#bf7a72" stroke-width="0.9" />
<line x1="151.80" y1="228.20" x2="151.80" y2="236.20" stroke="#bf7a72" stroke-width="0.85" />
<line x1="150.60" y1="228.20" x2="153.00" y2="228.20" stroke="#bf7a72" stroke-width="0.9" />
<line x1="150.60" y1="236.20" x2="153.00" y2="236.20" stroke="#bf7a72" stroke-width="0.9" />
<line x1="41.30" y1="228.00" x2="41.30" y2="238.00" stroke="#767ea6" stroke-width="0.85" />
<line x1="40.10" y1="228.00" x2="42.50" y2="228.00" stroke="#767ea6" stroke-width="0.9" />
<line x1="40.10" y1="238.00" x2="42.50" y2="238.00" stroke="#767ea6" stroke-width="0.9" />
<line x1="49.80" y1="222.40" x2="49.80" y2="234.00" stroke="#767ea6" stroke-width="0.85" />
<line x1="48.60" y1="222.40" x2="51.00" y2="222.40" stroke="#767ea6" stroke-width="0.9" />
<line x1="48.60" y1="234.00" x2="51.00" y2="234.00" stroke="#767ea6" stroke-width="0.9" />
<line x1="58.30" y1="216.50" x2="58.30" y2="232.10" stroke="#767ea6" stroke-width="0.85" />
<line x1="57.10" y1="216.50" x2="59.50" y2="216.50" stroke="#767ea6" stroke-width="0.9" />
<line x1="57.10" y1="232.10" x2="59.50" y2="232.10" stroke="#767ea6" stroke-width="0.9" />
<line x1="66.80" y1="207.90" x2="66.80" y2="230.50" stroke="#767ea6" stroke-width="0.85" />
<line x1="65.60" y1="207.90" x2="68.00" y2="207.90" stroke="#767ea6" stroke-width="0.9" />
<line x1="65.60" y1="230.50" x2="68.00" y2="230.50" stroke="#767ea6" stroke-width="0.9" />
<line x1="75.30" y1="199.30" x2="75.30" y2="225.90" stroke="#767ea6" stroke-width="0.85" />
<line x1="74.10" y1="199.30" x2="76.50" y2="199.30" stroke="#767ea6" stroke-width="0.9" />
<line x1="74.10" y1="225.90" x2="76.50" y2="225.90" stroke="#767ea6" stroke-width="0.9" />
<line x1="83.80" y1="192.20" x2="83.80" y2="223.60" stroke="#767ea6" stroke-width="0.85" />
<line x1="82.60" y1="192.20" x2="85.00" y2="192.20" stroke="#767ea6" stroke-width="0.9" />
<line x1="82.60" y1="223.60" x2="85.00" y2="223.60" stroke="#767ea6" stroke-width="0.9" />
<line x1="92.30" y1="186.30" x2="92.30" y2="222.90" stroke="#767ea6" stroke-width="0.85" />
<line x1="91.10" y1="186.30" x2="93.50" y2="186.30" stroke="#767ea6" stroke-width="0.9" />
<line x1="91.10" y1="222.90" x2="93.50" y2="222.90" stroke="#767ea6" stroke-width="0.9" />
<polyline points="41.30,233.00 49.80,229.00 58.30,225.90 66.80,222.80 75.30,220.40 83.80,218.50 92.30,217.40 100.80,217.40 109.30,219.80 117.80,222.10 126.30,226.50 134.80,229.30 143.30,230.80 151.80,232.20" fill="none" stroke="#ebae38" stroke-width="1.35" stroke-linejoin="round" stroke-linecap="round"/>
<circle cx="41.30" cy="233.00" r="1.0" fill="#ebae38"/>
<circle cx="49.80" cy="229.00" r="1.0" fill="#ebae38"/>
<circle cx="58.30" cy="225.90" r="1.0" fill="#ebae38"/>
<circle cx="66.80" cy="222.80" r="1.0" fill="#ebae38"/>
<circle cx="75.30" cy="220.40" r="1.0" fill="#ebae38"/>
<circle cx="83.80" cy="218.50" r="1.0" fill="#ebae38"/>
<circle cx="92.30" cy="217.40" r="1.0" fill="#ebae38"/>
<circle cx="100.80" cy="217.40" r="1.0" fill="#ebae38"/>
<circle cx="109.30" cy="219.80" r="1.0" fill="#ebae38"/>
<circle cx="117.80" cy="222.10" r="1.0" fill="#ebae38"/>
<circle cx="126.30" cy="226.50" r="1.0" fill="#ebae38"/>
<circle cx="134.80" cy="229.30" r="1.0" fill="#ebae38"/>
<circle cx="143.30" cy="230.80" r="1.0" fill="#ebae38"/>
<circle cx="151.80" cy="232.20" r="1.0" fill="#ebae38"/>
<polyline points="41.30,233.00 49.80,230.60 58.30,229.50 66.80,229.80 75.30,230.60 83.80,231.70 92.30,232.20 100.80,232.80 109.30,233.20 117.80,233.70 126.30,234.00 134.80,234.00 143.30,232.80 151.80,232.20" fill="none" stroke="#d23b30" stroke-width="1.35" stroke-linejoin="round" stroke-linecap="round"/>
<circle cx="41.30" cy="233.00" r="1.0" fill="#d23b30"/>
<circle cx="49.80" cy="230.60" r="1.0" fill="#d23b30"/>
<circle cx="58.30" cy="229.50" r="1.0" fill="#d23b30"/>
<circle cx="66.80" cy="229.80" r="1.0" fill="#d23b30"/>
<circle cx="75.30" cy="230.60" r="1.0" fill="#d23b30"/>
<circle cx="83.80" cy="231.70" r="1.0" fill="#d23b30"/>
<circle cx="92.30" cy="232.20" r="1.0" fill="#d23b30"/>
<circle cx="100.80" cy="232.80" r="1.0" fill="#d23b30"/>
<circle cx="109.30" cy="233.20" r="1.0" fill="#d23b30"/>
<circle cx="117.80" cy="233.70" r="1.0" fill="#d23b30"/>
<circle cx="126.30" cy="234.00" r="1.0" fill="#d23b30"/>
<circle cx="134.80" cy="234.00" r="1.0" fill="#d23b30"/>
<circle cx="143.30" cy="232.80" r="1.0" fill="#d23b30"/>
<circle cx="151.80" cy="232.20" r="1.0" fill="#d23b30"/>
<polyline points="41.30,233.00 49.80,228.20 58.30,224.30 66.80,219.20 75.30,212.60 83.80,207.90 92.30,202.90" fill="none" stroke="#33437f" stroke-width="1.35" stroke-linejoin="round" stroke-linecap="round"/>
<circle cx="41.30" cy="233.00" r="1.0" fill="#33437f"/>
<circle cx="49.80" cy="228.20" r="1.0" fill="#33437f"/>
<circle cx="58.30" cy="224.30" r="1.0" fill="#33437f"/>
<circle cx="66.80" cy="219.20" r="1.0" fill="#33437f"/>
<circle cx="75.30" cy="212.60" r="1.0" fill="#33437f"/>
<circle cx="83.80" cy="207.90" r="1.0" fill="#33437f"/>
<circle cx="92.30" cy="202.90" r="1.0" fill="#33437f"/>
<polyline points="154.60,202.60 157.90,202.60 157.90,231.40 154.60,231.40" fill="none" stroke="#404040" stroke-width="0.9"/>
<text x="158.40" y="217.40" font-size="5.6" fill="#1c1c1c">***</text>
<polyline points="163.60,202.60 166.70,202.60 166.70,233.30 163.60,233.30" fill="none" stroke="#404040" stroke-width="0.9"/>
<text x="167.80" y="217.40" font-size="5.6" fill="#1c1c1c">***</text>
<line x1="229.20" y1="155.90" x2="229.20" y2="244.00" stroke="#555555" stroke-width="0.9" />
<line x1="229.20" y1="243.80" x2="345.00" y2="243.80" stroke="#555555" stroke-width="0.9" />
<line x1="227.40" y1="243.50" x2="229.20" y2="243.50" stroke="#555555" stroke-width="0.8" />
<text x="225.70" y="245.21" font-size="5.9" text-anchor="end" fill="#1c1c1c" font-weight="normal" transform="translate(0,-19.448) scale(1,1.08)" >0</text>
<line x1="227.40" y1="221.72" x2="229.20" y2="221.72" stroke="#555555" stroke-width="0.8" />
<text x="225.70" y="223.43" font-size="5.9" text-anchor="end" fill="#1c1c1c" font-weight="normal" transform="translate(0,-17.706) scale(1,1.08)" >500</text>
<line x1="227.40" y1="199.95" x2="229.20" y2="199.95" stroke="#555555" stroke-width="0.8" />
<text x="225.70" y="201.66" font-size="5.9" text-anchor="end" fill="#1c1c1c" font-weight="normal" transform="translate(0,-15.964) scale(1,1.08)" >1,000</text>
<line x1="227.40" y1="178.18" x2="229.20" y2="178.18" stroke="#555555" stroke-width="0.8" />
<text x="225.70" y="179.88" font-size="5.9" text-anchor="end" fill="#1c1c1c" font-weight="normal" transform="translate(0,-14.222) scale(1,1.08)" >1,500</text>
<line x1="227.40" y1="156.40" x2="229.20" y2="156.40" stroke="#555555" stroke-width="0.8" />
<text x="225.70" y="158.11" font-size="5.9" text-anchor="end" fill="#1c1c1c" font-weight="normal" transform="translate(0,-12.480) scale(1,1.08)" >2,000</text>
<line x1="234.20" y1="243.50" x2="234.20" y2="245.10" stroke="#555555" stroke-width="0.8" />
<text x="234.20" y="252.34" font-size="6.0" text-anchor="middle" fill="#1c1c1c" font-weight="normal" transform="translate(0,-20.016) scale(1,1.08)" >14</text>
<line x1="243.12" y1="243.50" x2="243.12" y2="245.10" stroke="#555555" stroke-width="0.8" />
<text x="243.12" y="252.34" font-size="6.0" text-anchor="middle" fill="#1c1c1c" font-weight="normal" transform="translate(0,-20.016) scale(1,1.08)" >17</text>
<line x1="252.03" y1="243.50" x2="252.03" y2="245.10" stroke="#555555" stroke-width="0.8" />
<text x="252.03" y="252.34" font-size="6.0" text-anchor="middle" fill="#1c1c1c" font-weight="normal" transform="translate(0,-20.016) scale(1,1.08)" >21</text>
<line x1="260.95" y1="243.50" x2="260.95" y2="245.10" stroke="#555555" stroke-width="0.8" />
<text x="260.95" y="252.34" font-size="6.0" text-anchor="middle" fill="#1c1c1c" font-weight="normal" transform="translate(0,-20.016) scale(1,1.08)" >24</text>
<line x1="269.87" y1="243.50" x2="269.87" y2="245.10" stroke="#555555" stroke-width="0.8" />
<text x="269.87" y="252.34" font-size="6.0" text-anchor="middle" fill="#1c1c1c" font-weight="normal" transform="translate(0,-20.016) scale(1,1.08)" >27</text>
<line x1="278.78" y1="243.50" x2="278.78" y2="245.10" stroke="#555555" stroke-width="0.8" />
<text x="278.78" y="252.34" font-size="6.0" text-anchor="middle" fill="#1c1c1c" font-weight="normal" transform="translate(0,-20.016) scale(1,1.08)" >31</text>
<line x1="287.70" y1="243.50" x2="287.70" y2="245.10" stroke="#555555" stroke-width="0.8" />
<text x="287.70" y="252.34" font-size="6.0" text-anchor="middle" fill="#1c1c1c" font-weight="normal" transform="translate(0,-20.016) scale(1,1.08)" >34</text>
<line x1="296.62" y1="243.50" x2="296.62" y2="245.10" stroke="#555555" stroke-width="0.8" />
<text x="296.62" y="252.34" font-size="6.0" text-anchor="middle" fill="#1c1c1c" font-weight="normal" transform="translate(0,-20.016) scale(1,1.08)" >38</text>
<line x1="305.53" y1="243.50" x2="305.53" y2="245.10" stroke="#555555" stroke-width="0.8" />
<text x="305.53" y="252.34" font-size="6.0" text-anchor="middle" fill="#1c1c1c" font-weight="normal" transform="translate(0,-20.016) scale(1,1.08)" >41</text>
<line x1="314.45" y1="243.50" x2="314.45" y2="245.10" stroke="#555555" stroke-width="0.8" />
<text x="314.45" y="252.34" font-size="6.0" text-anchor="middle" fill="#1c1c1c" font-weight="normal" transform="translate(0,-20.016) scale(1,1.08)" >45</text>
<line x1="323.37" y1="243.50" x2="323.37" y2="245.10" stroke="#555555" stroke-width="0.8" />
<text x="323.37" y="252.34" font-size="6.0" text-anchor="middle" fill="#1c1c1c" font-weight="normal" transform="translate(0,-20.016) scale(1,1.08)" >48</text>
<line x1="332.28" y1="243.50" x2="332.28" y2="245.10" stroke="#555555" stroke-width="0.8" />
<text x="332.28" y="252.34" font-size="6.0" text-anchor="middle" fill="#1c1c1c" font-weight="normal" transform="translate(0,-20.016) scale(1,1.08)" >52</text>
<line x1="341.20" y1="243.50" x2="341.20" y2="245.10" stroke="#555555" stroke-width="0.8" />
<text x="341.20" y="252.34" font-size="6.0" text-anchor="middle" fill="#1c1c1c" font-weight="normal" transform="translate(0,-20.016) scale(1,1.08)" >55</text>
<text x="298.80" y="261.17" font-size="7.2" text-anchor="middle" fill="#1c1c1c" font-weight="normal" transform="translate(0,-20.688) scale(1,1.08)" >Days</text>
<text x="286.80" y="147.31" font-size="7.3" text-anchor="middle" fill="#1c1c1c" font-weight="normal" transform="translate(0,-11.576) scale(1,1.08)" >S463P</text>
<text x="200.50" y="142.38" font-size="10.6" text-anchor="start" fill="#111" font-weight="bold" transform="translate(0,-11.088) scale(1,1.08)" >E</text>
<g transform="translate(201.50,199.50) rotate(-90)">
<text x="0" y="2.57" font-size="7.2" text-anchor="middle" fill="#1c1c1c" >Tumor volume (mm<tspan font-size="4.32" dy="-2.59">3</tspan><tspan dy="2.59">)</tspan></text>
</g>
<line x1="231.90" y1="153.10" x2="236.50" y2="153.10" stroke="#33437f" stroke-width="1.1" />
<path d="M232.90,153.10 L234.20,152.10 L235.50,153.10 L234.20,154.10 Z" fill="#28356a"/>
<text x="237.80" y="154.54" font-size="5.15" text-anchor="start" fill="#1c1c1c" font-weight="normal" transform="translate(0,-12.216) scale(1,1.08)"  style="stroke-width:0.08px">Vehicle</text>
<line x1="231.90" y1="161.20" x2="236.50" y2="161.20" stroke="#ebae38" stroke-width="1.1" />
<path d="M232.90,161.20 L234.20,160.20 L235.50,161.20 L234.20,162.20 Z" fill="#b08040"/>
<text x="237.80" y="162.64" font-size="5.15" text-anchor="start" fill="#1c1c1c" font-weight="normal" transform="translate(0,-12.864) scale(1,1.08)"  style="stroke-width:0.08px">200 mg/kg ICI</text>
<line x1="231.90" y1="169.40" x2="236.50" y2="169.40" stroke="#d23b30" stroke-width="1.1" />
<path d="M232.90,169.40 L234.20,168.40 L235.50,169.40 L234.20,170.40 Z" fill="#9c3030"/>
<text x="237.80" y="170.84" font-size="5.15" text-anchor="start" fill="#1c1c1c" font-weight="normal" transform="translate(0,-13.520) scale(1,1.08)"  style="stroke-width:0.08px">15 mg/kg AZD9496</text>
<line x1="234.20" y1="231.50" x2="234.20" y2="236.50" stroke="#cfa270" stroke-width="0.85" />
<line x1="233.00" y1="231.50" x2="235.40" y2="231.50" stroke="#cfa270" stroke-width="0.9" />
<line x1="233.00" y1="236.50" x2="235.40" y2="236.50" stroke="#cfa270" stroke-width="0.9" />
<line x1="243.12" y1="227.70" x2="243.12" y2="234.70" stroke="#cfa270" stroke-width="0.85" />
<line x1="241.92" y1="227.70" x2="244.32" y2="227.70" stroke="#cfa270" stroke-width="0.9" />
<line x1="241.92" y1="234.70" x2="244.32" y2="234.70" stroke="#cfa270" stroke-width="0.9" />
<line x1="252.03" y1="218.90" x2="252.03" y2="233.30" stroke="#cfa270" stroke-width="0.85" />
<line x1="250.83" y1="218.90" x2="253.23" y2="218.90" stroke="#cfa270" stroke-width="0.9" />
<line x1="250.83" y1="233.30" x2="253.23" y2="233.30" stroke="#cfa270" stroke-width="0.9" />
<line x1="260.95" y1="213.80" x2="260.95" y2="234.20" stroke="#cfa270" stroke-width="0.85" />
<line x1="259.75" y1="213.80" x2="262.15" y2="213.80" stroke="#cfa270" stroke-width="0.9" />
<line x1="259.75" y1="234.20" x2="262.15" y2="234.20" stroke="#cfa270" stroke-width="0.9" />
<line x1="269.87" y1="210.70" x2="269.87" y2="234.10" stroke="#cfa270" stroke-width="0.85" />
<line x1="268.67" y1="210.70" x2="271.07" y2="210.70" stroke="#cfa270" stroke-width="0.9" />
<line x1="268.67" y1="234.10" x2="271.07" y2="234.10" stroke="#cfa270" stroke-width="0.9" />
<line x1="278.78" y1="208.60" x2="278.78" y2="234.60" stroke="#cfa270" stroke-width="0.85" />
<line x1="277.58" y1="208.60" x2="279.98" y2="208.60" stroke="#cfa270" stroke-width="0.9" />
<line x1="277.58" y1="234.60" x2="279.98" y2="234.60" stroke="#cfa270" stroke-width="0.9" />
<line x1="287.70" y1="208.60" x2="287.70" y2="234.60" stroke="#cfa270" stroke-width="0.85" />
<line x1="286.50" y1="208.60" x2="288.90" y2="208.60" stroke="#cfa270" stroke-width="0.9" />
<line x1="286.50" y1="234.60" x2="288.90" y2="234.60" stroke="#cfa270" stroke-width="0.9" />
<line x1="296.62" y1="208.60" x2="296.62" y2="234.60" stroke="#cfa270" stroke-width="0.85" />
<line x1="295.42" y1="208.60" x2="297.82" y2="208.60" stroke="#cfa270" stroke-width="0.9" />
<line x1="295.42" y1="234.60" x2="297.82" y2="234.60" stroke="#cfa270" stroke-width="0.9" />
<line x1="305.53" y1="209.70" x2="305.53" y2="236.30" stroke="#cfa270" stroke-width="0.85" />
<line x1="304.33" y1="209.70" x2="306.73" y2="209.70" stroke="#cfa270" stroke-width="0.9" />
<line x1="304.33" y1="236.30" x2="306.73" y2="236.30" stroke="#cfa270" stroke-width="0.9" />
<line x1="314.45" y1="210.70" x2="314.45" y2="240.70" stroke="#cfa270" stroke-width="0.85" />
<line x1="313.25" y1="210.70" x2="315.65" y2="210.70" stroke="#cfa270" stroke-width="0.9" />
<line x1="313.25" y1="240.70" x2="315.65" y2="240.70" stroke="#cfa270" stroke-width="0.9" />
<line x1="323.37" y1="217.00" x2="323.37" y2="243.60" stroke="#cfa270" stroke-width="0.85" />
<line x1="322.17" y1="217.00" x2="324.57" y2="217.00" stroke="#cfa270" stroke-width="0.9" />
<line x1="322.17" y1="243.60" x2="324.57" y2="243.60" stroke="#cfa270" stroke-width="0.9" />
<line x1="332.28" y1="222.50" x2="332.28" y2="243.50" stroke="#cfa270" stroke-width="0.85" />
<line x1="331.08" y1="222.50" x2="333.48" y2="222.50" stroke="#cfa270" stroke-width="0.9" />
<line x1="331.08" y1="243.50" x2="333.48" y2="243.50" stroke="#cfa270" stroke-width="0.9" />
<line x1="341.20" y1="227.80" x2="341.20" y2="241.00" stroke="#cfa270" stroke-width="0.85" />
<line x1="340.00" y1="227.80" x2="342.40" y2="227.80" stroke="#cfa270" stroke-width="0.9" />
<line x1="340.00" y1="241.00" x2="342.40" y2="241.00" stroke="#cfa270" stroke-width="0.9" />
<line x1="234.20" y1="231.50" x2="234.20" y2="236.50" stroke="#bf7a72" stroke-width="0.85" />
<line x1="233.00" y1="231.50" x2="235.40" y2="231.50" stroke="#bf7a72" stroke-width="0.9" />
<line x1="233.00" y1="236.50" x2="235.40" y2="236.50" stroke="#bf7a72" stroke-width="0.9" />
<line x1="243.12" y1="230.30" x2="243.12" y2="236.30" stroke="#bf7a72" stroke-width="0.85" />
<line x1="241.92" y1="230.30" x2="244.32" y2="230.30" stroke="#bf7a72" stroke-width="0.9" />
<line x1="241.92" y1="236.30" x2="244.32" y2="236.30" stroke="#bf7a72" stroke-width="0.9" />
<line x1="252.03" y1="227.30" x2="252.03" y2="237.30" stroke="#bf7a72" stroke-width="0.85" />
<line x1="250.83" y1="227.30" x2="253.23" y2="227.30" stroke="#bf7a72" stroke-width="0.9" />
<line x1="250.83" y1="237.30" x2="253.23" y2="237.30" stroke="#bf7a72" stroke-width="0.9" />
<line x1="260.95" y1="228.30" x2="260.95" y2="238.30" stroke="#bf7a72" stroke-width="0.85" />
<line x1="259.75" y1="228.30" x2="262.15" y2="228.30" stroke="#bf7a72" stroke-width="0.9" />
<line x1="259.75" y1="238.30" x2="262.15" y2="238.30" stroke="#bf7a72" stroke-width="0.9" />
<line x1="269.87" y1="229.00" x2="269.87" y2="239.00" stroke="#bf7a72" stroke-width="0.85" />
<line x1="268.67" y1="229.00" x2="271.07" y2="229.00" stroke="#bf7a72" stroke-width="0.9" />
<line x1="268.67" y1="239.00" x2="271.07" y2="239.00" stroke="#bf7a72" stroke-width="0.9" />
<line x1="278.78" y1="229.30" x2="278.78" y2="239.30" stroke="#bf7a72" stroke-width="0.85" />
<line x1="277.58" y1="229.30" x2="279.98" y2="229.30" stroke="#bf7a72" stroke-width="0.9" />
<line x1="277.58" y1="239.30" x2="279.98" y2="239.30" stroke="#bf7a72" stroke-width="0.9" />
<line x1="287.70" y1="229.00" x2="287.70" y2="239.00" stroke="#bf7a72" stroke-width="0.85" />
<line x1="286.50" y1="229.00" x2="288.90" y2="229.00" stroke="#bf7a72" stroke-width="0.9" />
<line x1="286.50" y1="239.00" x2="288.90" y2="239.00" stroke="#bf7a72" stroke-width="0.9" />
<line x1="296.62" y1="229.00" x2="296.62" y2="239.00" stroke="#bf7a72" stroke-width="0.85" />
<line x1="295.42" y1="229.00" x2="297.82" y2="229.00" stroke="#bf7a72" stroke-width="0.9" />
<line x1="295.42" y1="239.00" x2="297.82" y2="239.00" stroke="#bf7a72" stroke-width="0.9" />
<line x1="305.53" y1="229.00" x2="305.53" y2="239.00" stroke="#bf7a72" stroke-width="0.85" />
<line x1="304.33" y1="229.00" x2="306.73" y2="229.00" stroke="#bf7a72" stroke-width="0.9" />
<line x1="304.33" y1="239.00" x2="306.73" y2="239.00" stroke="#bf7a72" stroke-width="0.9" />
<line x1="314.45" y1="229.00" x2="314.45" y2="239.00" stroke="#bf7a72" stroke-width="0.85" />
<line x1="313.25" y1="229.00" x2="315.65" y2="229.00" stroke="#bf7a72" stroke-width="0.9" />
<line x1="313.25" y1="239.00" x2="315.65" y2="239.00" stroke="#bf7a72" stroke-width="0.9" />
<line x1="323.37" y1="229.30" x2="323.37" y2="239.30" stroke="#bf7a72" stroke-width="0.85" />
<line x1="322.17" y1="229.30" x2="324.57" y2="229.30" stroke="#bf7a72" stroke-width="0.9" />
<line x1="322.17" y1="239.30" x2="324.57" y2="239.30" stroke="#bf7a72" stroke-width="0.9" />
<line x1="332.28" y1="229.30" x2="332.28" y2="239.30" stroke="#bf7a72" stroke-width="0.85" />
<line x1="331.08" y1="229.30" x2="333.48" y2="229.30" stroke="#bf7a72" stroke-width="0.9" />
<line x1="331.08" y1="239.30" x2="333.48" y2="239.30" stroke="#bf7a72" stroke-width="0.9" />
<line x1="341.20" y1="230.40" x2="341.20" y2="238.40" stroke="#bf7a72" stroke-width="0.85" />
<line x1="340.00" y1="230.40" x2="342.40" y2="230.40" stroke="#bf7a72" stroke-width="0.9" />
<line x1="340.00" y1="238.40" x2="342.40" y2="238.40" stroke="#bf7a72" stroke-width="0.9" />
<line x1="234.20" y1="232.00" x2="234.20" y2="234.00" stroke="#767ea6" stroke-width="0.85" />
<line x1="233.00" y1="232.00" x2="235.40" y2="232.00" stroke="#767ea6" stroke-width="0.9" />
<line x1="233.00" y1="234.00" x2="235.40" y2="234.00" stroke="#767ea6" stroke-width="0.9" />
<line x1="243.12" y1="226.50" x2="243.12" y2="229.50" stroke="#767ea6" stroke-width="0.85" />
<line x1="241.92" y1="226.50" x2="244.32" y2="226.50" stroke="#767ea6" stroke-width="0.9" />
<line x1="241.92" y1="229.50" x2="244.32" y2="229.50" stroke="#767ea6" stroke-width="0.9" />
<line x1="252.03" y1="209.60" x2="252.03" y2="223.00" stroke="#767ea6" stroke-width="0.85" />
<line x1="250.83" y1="209.60" x2="253.23" y2="209.60" stroke="#767ea6" stroke-width="0.9" />
<line x1="250.83" y1="223.00" x2="253.23" y2="223.00" stroke="#767ea6" stroke-width="0.9" />
<line x1="260.95" y1="200.00" x2="260.95" y2="217.50" stroke="#767ea6" stroke-width="0.85" />
<line x1="259.75" y1="200.00" x2="262.15" y2="200.00" stroke="#767ea6" stroke-width="0.9" />
<line x1="259.75" y1="217.50" x2="262.15" y2="217.50" stroke="#767ea6" stroke-width="0.9" />
<line x1="269.87" y1="189.10" x2="269.87" y2="211.30" stroke="#767ea6" stroke-width="0.85" />
<line x1="268.67" y1="189.10" x2="271.07" y2="189.10" stroke="#767ea6" stroke-width="0.9" />
<line x1="268.67" y1="211.30" x2="271.07" y2="211.30" stroke="#767ea6" stroke-width="0.9" />
<line x1="278.78" y1="175.30" x2="278.78" y2="203.10" stroke="#767ea6" stroke-width="0.85" />
<line x1="277.58" y1="175.30" x2="279.98" y2="175.30" stroke="#767ea6" stroke-width="0.9" />
<line x1="277.58" y1="203.10" x2="279.98" y2="203.10" stroke="#767ea6" stroke-width="0.9" />
<line x1="287.70" y1="160.30" x2="287.70" y2="193.20" stroke="#767ea6" stroke-width="0.85" />
<line x1="286.50" y1="160.30" x2="288.90" y2="160.30" stroke="#767ea6" stroke-width="0.9" />
<line x1="286.50" y1="193.20" x2="288.90" y2="193.20" stroke="#767ea6" stroke-width="0.9" />
<line x1="296.62" y1="156.20" x2="296.62" y2="185.60" stroke="#767ea6" stroke-width="0.85" />
<line x1="295.42" y1="156.20" x2="297.82" y2="156.20" stroke="#767ea6" stroke-width="0.9" />
<line x1="295.42" y1="185.60" x2="297.82" y2="185.60" stroke="#767ea6" stroke-width="0.9" />
<polyline points="234.20,234.00 243.12,231.20 252.03,226.10 260.95,224.00 269.87,222.40 278.78,221.60 287.70,221.60 296.62,221.60 305.53,223.00 314.45,225.70 323.37,230.30 332.28,233.00 341.20,234.40" fill="none" stroke="#ebae38" stroke-width="1.35" stroke-linejoin="round" stroke-linecap="round"/>
<circle cx="234.20" cy="234.00" r="1.0" fill="#ebae38"/>
<circle cx="243.12" cy="231.20" r="1.0" fill="#ebae38"/>
<circle cx="252.03" cy="226.10" r="1.0" fill="#ebae38"/>
<circle cx="260.95" cy="224.00" r="1.0" fill="#ebae38"/>
<circle cx="269.87" cy="222.40" r="1.0" fill="#ebae38"/>
<circle cx="278.78" cy="221.60" r="1.0" fill="#ebae38"/>
<circle cx="287.70" cy="221.60" r="1.0" fill="#ebae38"/>
<circle cx="296.62" cy="221.60" r="1.0" fill="#ebae38"/>
<circle cx="305.53" cy="223.00" r="1.0" fill="#ebae38"/>
<circle cx="314.45" cy="225.70" r="1.0" fill="#ebae38"/>
<circle cx="323.37" cy="230.30" r="1.0" fill="#ebae38"/>
<circle cx="332.28" cy="233.00" r="1.0" fill="#ebae38"/>
<circle cx="341.20" cy="234.40" r="1.0" fill="#ebae38"/>
<polyline points="234.20,234.00 243.12,233.30 252.03,232.30 260.95,233.30 269.87,234.00 278.78,234.30 287.70,234.00 296.62,234.00 305.53,234.00 314.45,234.00 323.37,234.30 332.28,234.30 341.20,234.40" fill="none" stroke="#d23b30" stroke-width="1.35" stroke-linejoin="round" stroke-linecap="round"/>
<circle cx="234.20" cy="234.00" r="1.0" fill="#d23b30"/>
<circle cx="243.12" cy="233.30" r="1.0" fill="#d23b30"/>
<circle cx="252.03" cy="232.30" r="1.0" fill="#d23b30"/>
<circle cx="260.95" cy="233.30" r="1.0" fill="#d23b30"/>
<circle cx="269.87" cy="234.00" r="1.0" fill="#d23b30"/>
<circle cx="278.78" cy="234.30" r="1.0" fill="#d23b30"/>
<circle cx="287.70" cy="234.00" r="1.0" fill="#d23b30"/>
<circle cx="296.62" cy="234.00" r="1.0" fill="#d23b30"/>
<circle cx="305.53" cy="234.00" r="1.0" fill="#d23b30"/>
<circle cx="314.45" cy="234.00" r="1.0" fill="#d23b30"/>
<circle cx="323.37" cy="234.30" r="1.0" fill="#d23b30"/>
<circle cx="332.28" cy="234.30" r="1.0" fill="#d23b30"/>
<circle cx="341.20" cy="234.40" r="1.0" fill="#d23b30"/>
<polyline points="234.20,234.00 243.12,229.50 252.03,223.00 260.95,217.50 269.87,211.30 278.78,203.10 287.70,193.20 296.62,185.60" fill="none" stroke="#33437f" stroke-width="1.35" stroke-linejoin="round" stroke-linecap="round"/>
<circle cx="234.20" cy="234.00" r="1.0" fill="#33437f"/>
<circle cx="243.12" cy="229.50" r="1.0" fill="#33437f"/>
<circle cx="252.03" cy="223.00" r="1.0" fill="#33437f"/>
<circle cx="260.95" cy="217.50" r="1.0" fill="#33437f"/>
<circle cx="269.87" cy="211.30" r="1.0" fill="#33437f"/>
<circle cx="278.78" cy="203.10" r="1.0" fill="#33437f"/>
<circle cx="287.70" cy="193.20" r="1.0" fill="#33437f"/>
<circle cx="296.62" cy="185.60" r="1.0" fill="#33437f"/>
<polyline points="344.30,185.60 346.70,185.60 346.70,234.20 344.30,234.20" fill="none" stroke="#404040" stroke-width="0.9"/>
<text x="348.60" y="209.10" font-size="5.6" fill="#1c1c1c">**</text>
<polyline points="353.20,185.60 356.00,185.60 356.00,235.40 353.20,235.40" fill="none" stroke="#404040" stroke-width="0.9"/>
<text x="357.80" y="209.10" font-size="5.6" fill="#1c1c1c">***</text>
<line x1="33.60" y1="290.10" x2="33.60" y2="368.30" stroke="#555555" stroke-width="0.9" />
<line x1="33.60" y1="368.10" x2="151.00" y2="368.10" stroke="#555555" stroke-width="0.9" />
<line x1="31.80" y1="367.80" x2="33.60" y2="367.80" stroke="#555555" stroke-width="0.8" />
<text x="29.60" y="369.47" font-size="5.8" text-anchor="end" fill="#1c1c1c" font-weight="normal" transform="translate(0,-29.392) scale(1,1.08)" >0</text>
<line x1="31.80" y1="348.50" x2="33.60" y2="348.50" stroke="#555555" stroke-width="0.8" />
<text x="29.60" y="350.17" font-size="5.8" text-anchor="end" fill="#1c1c1c" font-weight="normal" transform="translate(0,-27.848) scale(1,1.08)" >500</text>
<line x1="31.80" y1="329.20" x2="33.60" y2="329.20" stroke="#555555" stroke-width="0.8" />
<text x="29.60" y="330.87" font-size="5.8" text-anchor="end" fill="#1c1c1c" font-weight="normal" transform="translate(0,-26.304) scale(1,1.08)" >1,000</text>
<line x1="31.80" y1="309.90" x2="33.60" y2="309.90" stroke="#555555" stroke-width="0.8" />
<text x="29.60" y="311.57" font-size="5.8" text-anchor="end" fill="#1c1c1c" font-weight="normal" transform="translate(0,-24.760) scale(1,1.08)" >1,500</text>
<line x1="31.80" y1="290.60" x2="33.60" y2="290.60" stroke="#555555" stroke-width="0.8" />
<text x="29.60" y="292.27" font-size="5.8" text-anchor="end" fill="#1c1c1c" font-weight="normal" transform="translate(0,-23.216) scale(1,1.08)" >2,000</text>
<text x="2.00" y="278.38" font-size="10.6" text-anchor="start" fill="#111" font-weight="bold" transform="translate(0,-21.968) scale(1,1.08)" >F</text>
<text x="91.00" y="283.36" font-size="6.9" text-anchor="middle" fill="#1c1c1c" font-weight="normal" transform="translate(0,-22.472) scale(1,1.08)" >ICI</text>
<g transform="translate(5.50,329.50) rotate(-90)">
<text x="0" y="2.57" font-size="7.2" text-anchor="middle" fill="#1c1c1c" >Tumor volume (mm<tspan font-size="4.32" dy="-2.59">3</tspan><tspan dy="2.59">)</tspan></text>
</g>
<line x1="53.20" y1="367.80" x2="53.20" y2="369.40" stroke="#555555" stroke-width="0.8" />
<line x1="39.80" y1="359.70" x2="66.60" y2="359.70" stroke="#e07a72" stroke-width="0.8" />
<line x1="45.90" y1="353.40" x2="60.50" y2="353.40" stroke="#e07a72" stroke-width="0.8" />
<line x1="45.90" y1="366.50" x2="60.50" y2="366.50" stroke="#e07a72" stroke-width="0.8" />
<line x1="53.20" y1="353.40" x2="53.20" y2="366.50" stroke="#e07a72" stroke-width="0.8" />
<path d="M52.10,344.60 L54.70,344.60 L53.40,346.90 Z" fill="#a8302a"/>
<path d="M51.90,357.30 L54.50,357.30 L53.20,359.60 Z" fill="#a8302a"/>
<path d="M43.90,361.80 L46.50,361.80 L45.20,364.10 Z" fill="#a8302a"/>
<path d="M47.00,362.60 L49.60,362.60 L48.30,364.90 Z" fill="#a8302a"/>
<path d="M49.70,362.80 L52.30,362.80 L51.00,365.10 Z" fill="#a8302a"/>
<path d="M52.50,362.60 L55.10,362.60 L53.80,364.90 Z" fill="#a8302a"/>
<path d="M54.90,362.60 L57.50,362.60 L56.20,364.90 Z" fill="#a8302a"/>
<path d="M57.20,362.20 L59.80,362.20 L58.50,364.50 Z" fill="#a8302a"/>
<path d="M60.30,361.50 L62.90,361.50 L61.60,363.80 Z" fill="#a8302a"/>
<g transform="translate(55.70,372.30) rotate(-45)"><text x="0" y="2" font-size="6.2" text-anchor="end" fill="#1c1c1c">WT</text></g>
<line x1="92.10" y1="367.80" x2="92.10" y2="369.40" stroke="#555555" stroke-width="0.8" />
<line x1="78.70" y1="339.70" x2="105.50" y2="339.70" stroke="#efb86a" stroke-width="0.8" />
<line x1="84.80" y1="330.60" x2="99.40" y2="330.60" stroke="#efb86a" stroke-width="0.8" />
<line x1="84.80" y1="348.00" x2="99.40" y2="348.00" stroke="#efb86a" stroke-width="0.8" />
<line x1="92.10" y1="330.60" x2="92.10" y2="348.00" stroke="#efb86a" stroke-width="0.8" />
<path d="M87.40,327.80 L90.00,327.80 L88.70,330.10 Z" fill="#e59a35"/>
<path d="M94.20,327.80 L96.80,327.80 L95.50,330.10 Z" fill="#e59a35"/>
<path d="M89.40,335.40 L92.00,335.40 L90.70,337.70 Z" fill="#e59a35"/>
<path d="M91.80,338.70 L94.40,338.70 L93.10,341.00 Z" fill="#e59a35"/>
<path d="M86.00,347.00 L88.60,347.00 L87.30,349.30 Z" fill="#e59a35"/>
<path d="M89.10,348.70 L91.70,348.70 L90.40,351.00 Z" fill="#e59a35"/>
<path d="M92.20,347.00 L94.80,347.00 L93.50,349.30 Z" fill="#e59a35"/>
<path d="M95.20,345.30 L97.80,345.30 L96.50,347.60 Z" fill="#e59a35"/>
<g transform="translate(94.60,372.30) rotate(-45)"><text x="0" y="2" font-size="6.2" text-anchor="end" fill="#1c1c1c">Y537S</text></g>
<line x1="130.90" y1="367.80" x2="130.90" y2="369.40" stroke="#555555" stroke-width="0.8" />
<line x1="117.50" y1="354.90" x2="144.30" y2="354.90" stroke="#6f7cb4" stroke-width="0.8" />
<line x1="123.60" y1="347.30" x2="138.20" y2="347.30" stroke="#6f7cb4" stroke-width="0.8" />
<line x1="123.60" y1="362.00" x2="138.20" y2="362.00" stroke="#6f7cb4" stroke-width="0.8" />
<line x1="130.90" y1="347.30" x2="130.90" y2="362.00" stroke="#6f7cb4" stroke-width="0.8" />
<path d="M129.60,339.30 L132.20,339.30 L130.90,341.60 Z" fill="#2c3a78"/>
<path d="M127.70,349.00 L130.30,349.00 L129.00,351.30 Z" fill="#2c3a78"/>
<path d="M131.50,348.40 L134.10,348.40 L132.80,350.70 Z" fill="#2c3a78"/>
<path d="M126.40,354.50 L129.00,354.50 L127.70,356.80 Z" fill="#2c3a78"/>
<path d="M132.90,352.80 L135.50,352.80 L134.20,355.10 Z" fill="#2c3a78"/>
<path d="M129.60,355.80 L132.20,355.80 L130.90,358.10 Z" fill="#2c3a78"/>
<path d="M126.40,360.70 L129.00,360.70 L127.70,363.00 Z" fill="#2c3a78"/>
<path d="M129.60,362.00 L132.20,362.00 L130.90,364.30 Z" fill="#2c3a78"/>
<path d="M132.90,360.70 L135.50,360.70 L134.20,363.00 Z" fill="#2c3a78"/>
<g transform="translate(133.40,372.30) rotate(-45)"><text x="0" y="2" font-size="6.2" text-anchor="end" fill="#1c1c1c">D538G</text></g>
<polyline points="52.90,337.80 52.90,300.40 131.00,300.40 131.00,332.20" fill="none" stroke="#505050" stroke-width="0.85"/>
<text x="86.00" y="298.70" font-size="5.0" fill="#333" style="stroke:none">ns<tspan dx="3.4" font-style="italic">P</tspan> = 0.2073</text>
<polyline points="52.90,337.80 52.90,313.20 92.00,313.20 92.00,322.00" fill="none" stroke="#505050" stroke-width="0.85"/>
<text x="66.80" y="313.20" font-size="4.8" fill="#333" style="stroke:none">***</text>
<text x="73.60" y="311.70" font-size="5.0" fill="#333" style="stroke:none"><tspan font-style="italic">P</tspan> = 0.0002</text>
<path d="M149.80,293.50 L152.20,293.50 L151.00,295.50 Z" fill="#a8302a"/>
<text x="154.80" y="295.79" font-size="5.0" text-anchor="start" fill="#1c1c1c" font-weight="normal" transform="translate(0,-23.520) scale(1,1.08)"  style="stroke-width:0.08px">WT</text>
<path d="M149.80,301.10 L152.20,301.10 L151.00,303.10 Z" fill="#e59a35"/>
<text x="154.80" y="303.39" font-size="5.0" text-anchor="start" fill="#1c1c1c" font-weight="normal" transform="translate(0,-24.128) scale(1,1.08)"  style="stroke-width:0.08px">Y537S</text>
<path d="M149.80,308.60 L152.20,308.60 L151.00,310.60 Z" fill="#2c3a78"/>
<text x="154.80" y="310.89" font-size="5.0" text-anchor="start" fill="#1c1c1c" font-weight="normal" transform="translate(0,-24.728) scale(1,1.08)"  style="stroke-width:0.08px">D538G</text>
<line x1="232.90" y1="289.50" x2="232.90" y2="367.80" stroke="#555555" stroke-width="0.9" />
<line x1="232.90" y1="367.60" x2="353.50" y2="367.60" stroke="#555555" stroke-width="0.9" />
<line x1="231.10" y1="367.30" x2="232.90" y2="367.30" stroke="#555555" stroke-width="0.8" />
<text x="228.90" y="368.97" font-size="5.8" text-anchor="end" fill="#1c1c1c" font-weight="normal" transform="translate(0,-29.352) scale(1,1.08)" >0</text>
<line x1="231.10" y1="347.98" x2="232.90" y2="347.98" stroke="#555555" stroke-width="0.8" />
<text x="228.90" y="349.65" font-size="5.8" text-anchor="end" fill="#1c1c1c" font-weight="normal" transform="translate(0,-27.806) scale(1,1.08)" >500</text>
<line x1="231.10" y1="328.65" x2="232.90" y2="328.65" stroke="#555555" stroke-width="0.8" />
<text x="228.90" y="330.32" font-size="5.8" text-anchor="end" fill="#1c1c1c" font-weight="normal" transform="translate(0,-26.260) scale(1,1.08)" >1,000</text>
<line x1="231.10" y1="309.32" x2="232.90" y2="309.32" stroke="#555555" stroke-width="0.8" />
<text x="228.90" y="311.00" font-size="5.8" text-anchor="end" fill="#1c1c1c" font-weight="normal" transform="translate(0,-24.714) scale(1,1.08)" >1,500</text>
<line x1="231.10" y1="290.00" x2="232.90" y2="290.00" stroke="#555555" stroke-width="0.8" />
<text x="228.90" y="291.67" font-size="5.8" text-anchor="end" fill="#1c1c1c" font-weight="normal" transform="translate(0,-23.168) scale(1,1.08)" >2,000</text>
<text x="200.50" y="278.88" font-size="10.6" text-anchor="start" fill="#111" font-weight="bold" transform="translate(0,-22.008) scale(1,1.08)" >G</text>
<text x="292.30" y="283.06" font-size="6.9" text-anchor="middle" fill="#1c1c1c" font-weight="normal" transform="translate(0,-22.448) scale(1,1.08)" >AZD9496</text>
<g transform="translate(204.40,329.00) rotate(-90)">
<text x="0" y="2.57" font-size="7.2" text-anchor="middle" fill="#1c1c1c" >Tumor volume (mm<tspan font-size="4.32" dy="-2.59">3</tspan><tspan dy="2.59">)</tspan></text>
</g>
<line x1="253.10" y1="367.30" x2="253.10" y2="368.90" stroke="#555555" stroke-width="0.8" />
<line x1="239.70" y1="356.00" x2="266.50" y2="356.00" stroke="#e07a72" stroke-width="0.8" />
<line x1="245.80" y1="350.30" x2="260.40" y2="350.30" stroke="#e07a72" stroke-width="0.8" />
<line x1="245.80" y1="361.30" x2="260.40" y2="361.30" stroke="#e07a72" stroke-width="0.8" />
<line x1="253.10" y1="350.30" x2="253.10" y2="361.30" stroke="#e07a72" stroke-width="0.8" />
<path d="M251.80,346.20 L254.40,346.20 L253.10,348.50 Z" fill="#a8302a"/>
<path d="M244.80,352.60 L247.40,352.60 L246.10,354.90 Z" fill="#a8302a"/>
<path d="M248.40,353.00 L251.00,353.00 L249.70,355.30 Z" fill="#a8302a"/>
<path d="M255.30,353.00 L257.90,353.00 L256.60,355.30 Z" fill="#a8302a"/>
<path d="M258.90,352.60 L261.50,352.60 L260.20,354.90 Z" fill="#a8302a"/>
<path d="M252.00,359.90 L254.60,359.90 L253.30,362.20 Z" fill="#a8302a"/>
<path d="M253.70,361.90 L256.30,361.90 L255.00,364.20 Z" fill="#a8302a"/>
<path d="M250.10,364.20 L252.70,364.20 L251.40,366.50 Z" fill="#a8302a"/>
<g transform="translate(255.60,371.80) rotate(-45)"><text x="0" y="2" font-size="6.2" text-anchor="end" fill="#1c1c1c">WT</text></g>
<line x1="293.50" y1="367.30" x2="293.50" y2="368.90" stroke="#555555" stroke-width="0.8" />
<line x1="280.10" y1="357.90" x2="306.90" y2="357.90" stroke="#efb86a" stroke-width="0.8" />
<line x1="286.20" y1="354.20" x2="300.80" y2="354.20" stroke="#efb86a" stroke-width="0.8" />
<line x1="286.20" y1="361.00" x2="300.80" y2="361.00" stroke="#efb86a" stroke-width="0.8" />
<line x1="293.50" y1="354.20" x2="293.50" y2="361.00" stroke="#efb86a" stroke-width="0.8" />
<path d="M288.60,352.80 L291.20,352.80 L289.90,355.10 Z" fill="#e59a35"/>
<path d="M292.20,353.50 L294.80,353.50 L293.50,355.80 Z" fill="#e59a35"/>
<path d="M296.60,352.80 L299.20,352.80 L297.90,355.10 Z" fill="#e59a35"/>
<path d="M287.20,358.60 L289.80,358.60 L288.50,360.90 Z" fill="#e59a35"/>
<path d="M290.30,358.90 L292.90,358.90 L291.60,361.20 Z" fill="#e59a35"/>
<path d="M293.20,358.90 L295.80,358.90 L294.50,361.20 Z" fill="#e59a35"/>
<path d="M297.20,358.60 L299.80,358.60 L298.50,360.90 Z" fill="#e59a35"/>
<g transform="translate(296.00,371.80) rotate(-45)"><text x="0" y="2" font-size="6.2" text-anchor="end" fill="#1c1c1c">Y537S</text></g>
<line x1="334.10" y1="367.30" x2="334.10" y2="368.90" stroke="#555555" stroke-width="0.8" />
<line x1="320.70" y1="358.90" x2="347.50" y2="358.90" stroke="#6f7cb4" stroke-width="0.8" />
<line x1="326.80" y1="355.80" x2="341.40" y2="355.80" stroke="#6f7cb4" stroke-width="0.8" />
<line x1="326.80" y1="360.60" x2="341.40" y2="360.60" stroke="#6f7cb4" stroke-width="0.8" />
<line x1="334.10" y1="355.80" x2="334.10" y2="360.60" stroke="#6f7cb4" stroke-width="0.8" />
<path d="M329.50,354.20 L332.10,354.20 L330.80,356.50 Z" fill="#2c3a78"/>
<path d="M336.10,353.50 L338.70,353.50 L337.40,355.80 Z" fill="#2c3a78"/>
<path d="M332.80,356.20 L335.40,356.20 L334.10,358.50 Z" fill="#2c3a78"/>
<path d="M323.70,358.60 L326.30,358.60 L325.00,360.90 Z" fill="#2c3a78"/>
<path d="M326.70,358.80 L329.30,358.80 L328.00,361.10 Z" fill="#2c3a78"/>
<path d="M330.20,359.00 L332.80,359.00 L331.50,361.30 Z" fill="#2c3a78"/>
<path d="M333.90,359.00 L336.50,359.00 L335.20,361.30 Z" fill="#2c3a78"/>
<path d="M337.60,358.80 L340.20,358.80 L338.90,361.10 Z" fill="#2c3a78"/>
<path d="M341.20,358.60 L343.80,358.60 L342.50,360.90 Z" fill="#2c3a78"/>
<g transform="translate(336.60,371.80) rotate(-45)"><text x="0" y="2" font-size="6.2" text-anchor="end" fill="#1c1c1c">D538G</text></g>
<polyline points="252.70,332.40 252.70,320.50 334.40,320.50 334.40,346.80" fill="none" stroke="#505050" stroke-width="0.85"/>
<text x="280.60" y="317.50" font-size="5.0" fill="#333" style="stroke:none">ns<tspan dx="3.4" font-style="italic">P</tspan> = 0.2780</text>
<polyline points="252.70,341.00 252.70,335.80 293.60,335.80 293.60,345.60" fill="none" stroke="#505050" stroke-width="0.85"/>
<text x="261.60" y="333.30" font-size="5.0" fill="#333" style="stroke:none">ns<tspan dx="3.4" font-style="italic">P</tspan> = 0.0747</text>
<path d="M346.20,294.00 L348.60,294.00 L347.40,296.00 Z" fill="#a8302a"/>
<text x="351.20" y="296.29" font-size="5.0" text-anchor="start" fill="#1c1c1c" font-weight="normal" transform="translate(0,-23.560) scale(1,1.08)"  style="stroke-width:0.08px">WT</text>
<path d="M346.20,301.70 L348.60,301.70 L347.40,303.70 Z" fill="#e59a35"/>
<text x="351.20" y="303.99" font-size="5.0" text-anchor="start" fill="#1c1c1c" font-weight="normal" transform="translate(0,-24.176) scale(1,1.08)"  style="stroke-width:0.08px">Y537S</text>
<path d="M346.20,309.10 L348.60,309.10 L347.40,311.10 Z" fill="#2c3a78"/>
<text x="351.20" y="311.39" font-size="5.0" text-anchor="start" fill="#1c1c1c" font-weight="normal" transform="translate(0,-24.768) scale(1,1.08)"  style="stroke-width:0.08px">D538G</text>
<line x1="47.20" y1="418.50" x2="47.20" y2="486.10" stroke="#4a4a4a" stroke-width="0.9" />
<line x1="47.20" y1="485.90" x2="149.50" y2="485.90" stroke="#4a4a4a" stroke-width="0.9" />
<line x1="45.90" y1="482.27" x2="47.20" y2="482.27" stroke="#4a4a4a" stroke-width="0.6" />
<line x1="45.90" y1="478.94" x2="47.20" y2="478.94" stroke="#4a4a4a" stroke-width="0.6" />
<line x1="45.90" y1="475.61" x2="47.20" y2="475.61" stroke="#4a4a4a" stroke-width="0.6" />
<line x1="45.90" y1="472.28" x2="47.20" y2="472.28" stroke="#4a4a4a" stroke-width="0.6" />
<line x1="45.90" y1="465.62" x2="47.20" y2="465.62" stroke="#4a4a4a" stroke-width="0.6" />
<line x1="45.90" y1="462.29" x2="47.20" y2="462.29" stroke="#4a4a4a" stroke-width="0.6" />
<line x1="45.90" y1="458.96" x2="47.20" y2="458.96" stroke="#4a4a4a" stroke-width="0.6" />
<line x1="45.90" y1="455.63" x2="47.20" y2="455.63" stroke="#4a4a4a" stroke-width="0.6" />
<line x1="45.90" y1="448.97" x2="47.20" y2="448.97" stroke="#4a4a4a" stroke-width="0.6" />
<line x1="45.90" y1="445.64" x2="47.20" y2="445.64" stroke="#4a4a4a" stroke-width="0.6" />
<line x1="45.90" y1="442.31" x2="47.20" y2="442.31" stroke="#4a4a4a" stroke-width="0.6" />
<line x1="45.90" y1="438.98" x2="47.20" y2="438.98" stroke="#4a4a4a" stroke-width="0.6" />
<line x1="45.90" y1="432.32" x2="47.20" y2="432.32" stroke="#4a4a4a" stroke-width="0.6" />
<line x1="45.90" y1="428.99" x2="47.20" y2="428.99" stroke="#4a4a4a" stroke-width="0.6" />
<line x1="45.90" y1="425.66" x2="47.20" y2="425.66" stroke="#4a4a4a" stroke-width="0.6" />
<line x1="45.90" y1="422.33" x2="47.20" y2="422.33" stroke="#4a4a4a" stroke-width="0.6" />
<line x1="44.80" y1="485.60" x2="47.20" y2="485.60" stroke="#4a4a4a" stroke-width="0.8" />
<text x="42.60" y="487.31" font-size="5.9" text-anchor="end" fill="#1c1c1c" font-weight="normal" transform="translate(0,-38.816) scale(1,1.08)" >0</text>
<line x1="44.80" y1="468.95" x2="47.20" y2="468.95" stroke="#4a4a4a" stroke-width="0.8" />
<text x="42.60" y="470.66" font-size="5.9" text-anchor="end" fill="#1c1c1c" font-weight="normal" transform="translate(0,-37.484) scale(1,1.08)" >500</text>
<line x1="44.80" y1="452.30" x2="47.20" y2="452.30" stroke="#4a4a4a" stroke-width="0.8" />
<text x="42.60" y="454.01" font-size="5.9" text-anchor="end" fill="#1c1c1c" font-weight="normal" transform="translate(0,-36.152) scale(1,1.08)" >1,000</text>
<line x1="44.80" y1="435.65" x2="47.20" y2="435.65" stroke="#4a4a4a" stroke-width="0.8" />
<text x="42.60" y="437.36" font-size="5.9" text-anchor="end" fill="#1c1c1c" font-weight="normal" transform="translate(0,-34.820) scale(1,1.08)" >1,500</text>
<line x1="44.80" y1="419.00" x2="47.20" y2="419.00" stroke="#4a4a4a" stroke-width="0.8" />
<text x="42.60" y="420.71" font-size="5.9" text-anchor="end" fill="#1c1c1c" font-weight="normal" transform="translate(0,-33.488) scale(1,1.08)" >2,000</text>
<line x1="50.70" y1="485.60" x2="50.70" y2="486.90" stroke="#4a4a4a" stroke-width="0.6" />
<line x1="57.50" y1="485.60" x2="57.50" y2="486.90" stroke="#4a4a4a" stroke-width="0.6" />
<line x1="71.10" y1="485.60" x2="71.10" y2="486.90" stroke="#4a4a4a" stroke-width="0.6" />
<line x1="77.90" y1="485.60" x2="77.90" y2="486.90" stroke="#4a4a4a" stroke-width="0.6" />
<line x1="84.70" y1="485.60" x2="84.70" y2="486.90" stroke="#4a4a4a" stroke-width="0.6" />
<line x1="91.50" y1="485.60" x2="91.50" y2="486.90" stroke="#4a4a4a" stroke-width="0.6" />
<line x1="105.10" y1="485.60" x2="105.10" y2="486.90" stroke="#4a4a4a" stroke-width="0.6" />
<line x1="111.90" y1="485.60" x2="111.90" y2="486.90" stroke="#4a4a4a" stroke-width="0.6" />
<line x1="118.70" y1="485.60" x2="118.70" y2="486.90" stroke="#4a4a4a" stroke-width="0.6" />
<line x1="125.50" y1="485.60" x2="125.50" y2="486.90" stroke="#4a4a4a" stroke-width="0.6" />
<line x1="139.10" y1="485.60" x2="139.10" y2="486.90" stroke="#4a4a4a" stroke-width="0.6" />
<line x1="145.90" y1="485.60" x2="145.90" y2="486.90" stroke="#4a4a4a" stroke-width="0.6" />
<line x1="64.30" y1="485.60" x2="64.30" y2="487.80" stroke="#4a4a4a" stroke-width="0.8" />
<text x="64.30" y="495.74" font-size="6.0" text-anchor="middle" fill="#1c1c1c" font-weight="normal" transform="translate(0,-39.488) scale(1,1.08)" >30</text>
<line x1="98.30" y1="485.60" x2="98.30" y2="487.80" stroke="#4a4a4a" stroke-width="0.8" />
<text x="98.30" y="495.74" font-size="6.0" text-anchor="middle" fill="#1c1c1c" font-weight="normal" transform="translate(0,-39.488) scale(1,1.08)" >40</text>
<line x1="132.30" y1="485.60" x2="132.30" y2="487.80" stroke="#4a4a4a" stroke-width="0.8" />
<text x="132.30" y="495.74" font-size="6.0" text-anchor="middle" fill="#1c1c1c" font-weight="normal" transform="translate(0,-39.488) scale(1,1.08)" >50</text>
<text x="97.60" y="504.36" font-size="6.9" text-anchor="middle" fill="#1c1c1c" font-weight="normal" transform="translate(0,-40.152) scale(1,1.08)" >Days post-implant</text>
<text x="2.00" y="407.88" font-size="10.6" text-anchor="start" fill="#111" font-weight="bold" transform="translate(0,-32.328) scale(1,1.08)" >H</text>
<text x="97.80" y="411.93" font-size="7.1" text-anchor="middle" fill="#1c1c1c" font-weight="normal" transform="translate(0,-32.752) scale(1,1.08)" >CTC-174</text>
<g transform="translate(16.10,452.80) rotate(-90)">
<text x="0" y="-2.05" font-size="7.0" text-anchor="middle" fill="#1c1c1c" >Tumor volume (mm<tspan font-size="4.2" dy="-2.6">3</tspan><tspan dy="2.6">)</tspan></text>
<text x="0" y="7.05" font-size="7.0" text-anchor="middle" fill="#1c1c1c" >Geomean ± SEM</text>
</g>
<line x1="50.40" y1="420.00" x2="141.50" y2="420.00" stroke="#c42e3e" stroke-width="1.15" />
<path d="M146.2,420 L140.6,416.8 L140.6,423.2 Z" fill="#c42e3e"/>
<text x="98.00" y="427.75" font-size="6.3" text-anchor="middle" fill="#1c1c1c" font-weight="normal" transform="translate(0,-34.040) scale(1,1.08)" style="stroke-width:0.08px">Dosing period</text>
<line x1="98.30" y1="470.30" x2="98.30" y2="472.30" stroke="#24603a" stroke-width="0.8" />
<line x1="97.20" y1="470.30" x2="99.40" y2="470.30" stroke="#24603a" stroke-width="0.8" />
<line x1="97.20" y1="472.30" x2="99.40" y2="472.30" stroke="#24603a" stroke-width="0.8" />
<line x1="108.50" y1="468.60" x2="108.50" y2="470.60" stroke="#24603a" stroke-width="0.8" />
<line x1="107.40" y1="468.60" x2="109.60" y2="468.60" stroke="#24603a" stroke-width="0.8" />
<line x1="107.40" y1="470.60" x2="109.60" y2="470.60" stroke="#24603a" stroke-width="0.8" />
<line x1="122.10" y1="466.10" x2="122.10" y2="468.50" stroke="#24603a" stroke-width="0.8" />
<line x1="121.00" y1="466.10" x2="123.20" y2="466.10" stroke="#24603a" stroke-width="0.8" />
<line x1="121.00" y1="468.50" x2="123.20" y2="468.50" stroke="#24603a" stroke-width="0.8" />
<line x1="132.30" y1="464.50" x2="132.30" y2="467.10" stroke="#24603a" stroke-width="0.8" />
<line x1="131.20" y1="464.50" x2="133.40" y2="464.50" stroke="#24603a" stroke-width="0.8" />
<line x1="131.20" y1="467.10" x2="133.40" y2="467.10" stroke="#24603a" stroke-width="0.8" />
<line x1="145.90" y1="462.70" x2="145.90" y2="465.70" stroke="#24603a" stroke-width="0.8" />
<line x1="144.80" y1="462.70" x2="147.00" y2="462.70" stroke="#24603a" stroke-width="0.8" />
<line x1="144.80" y1="465.70" x2="147.00" y2="465.70" stroke="#24603a" stroke-width="0.8" />
<polyline points="50.70,478.70 60.90,476.50 74.50,473.50 84.70,471.70 98.30,471.30 108.50,469.60 122.10,467.30 132.30,465.80 145.90,464.20" fill="none" stroke="#24603a" stroke-width="1.4" stroke-linejoin="round" stroke-linecap="round"/>
<path d="M48.70,480.10 L52.70,480.10 L50.70,476.70 Z" fill="#24603a"/>
<path d="M58.90,477.90 L62.90,477.90 L60.90,474.50 Z" fill="#24603a"/>
<path d="M72.50,474.90 L76.50,474.90 L74.50,471.50 Z" fill="#24603a"/>
<path d="M82.70,473.10 L86.70,473.10 L84.70,469.70 Z" fill="#24603a"/>
<path d="M96.30,472.70 L100.30,472.70 L98.30,469.30 Z" fill="#24603a"/>
<path d="M106.50,471.00 L110.50,471.00 L108.50,467.60 Z" fill="#24603a"/>
<path d="M120.10,468.70 L124.10,468.70 L122.10,465.30 Z" fill="#24603a"/>
<path d="M130.30,467.20 L134.30,467.20 L132.30,463.80 Z" fill="#24603a"/>
<path d="M143.90,465.60 L147.90,465.60 L145.90,462.20 Z" fill="#24603a"/>
<line x1="98.30" y1="465.10" x2="98.30" y2="467.50" stroke="#3cba50" stroke-width="0.8" />
<line x1="97.20" y1="465.10" x2="99.40" y2="465.10" stroke="#3cba50" stroke-width="0.8" />
<line x1="97.20" y1="467.50" x2="99.40" y2="467.50" stroke="#3cba50" stroke-width="0.8" />
<line x1="108.50" y1="462.90" x2="108.50" y2="465.30" stroke="#3cba50" stroke-width="0.8" />
<line x1="107.40" y1="462.90" x2="109.60" y2="462.90" stroke="#3cba50" stroke-width="0.8" />
<line x1="107.40" y1="465.30" x2="109.60" y2="465.30" stroke="#3cba50" stroke-width="0.8" />
<line x1="122.10" y1="458.10" x2="122.10" y2="461.10" stroke="#3cba50" stroke-width="0.8" />
<line x1="121.00" y1="458.10" x2="123.20" y2="458.10" stroke="#3cba50" stroke-width="0.8" />
<line x1="121.00" y1="461.10" x2="123.20" y2="461.10" stroke="#3cba50" stroke-width="0.8" />
<line x1="132.30" y1="454.90" x2="132.30" y2="458.10" stroke="#3cba50" stroke-width="0.8" />
<line x1="131.20" y1="454.90" x2="133.40" y2="454.90" stroke="#3cba50" stroke-width="0.8" />
<line x1="131.20" y1="458.10" x2="133.40" y2="458.10" stroke="#3cba50" stroke-width="0.8" />
<line x1="145.90" y1="451.70" x2="145.90" y2="455.30" stroke="#3cba50" stroke-width="0.8" />
<line x1="144.80" y1="451.70" x2="147.00" y2="451.70" stroke="#3cba50" stroke-width="0.8" />
<line x1="144.80" y1="455.30" x2="147.00" y2="455.30" stroke="#3cba50" stroke-width="0.8" />
<polyline points="50.70,478.70 60.90,476.50 74.50,474.00 84.70,471.70 98.30,466.30 108.50,464.10 122.10,459.60 132.30,456.50 145.90,453.50" fill="none" stroke="#3cba50" stroke-width="1.4" stroke-linejoin="round" stroke-linecap="round"/>
<path d="M48.70,477.30 L52.70,477.30 L50.70,480.70 Z" fill="#3cba50"/>
<path d="M58.90,475.10 L62.90,475.10 L60.90,478.50 Z" fill="#3cba50"/>
<path d="M72.50,472.60 L76.50,472.60 L74.50,476.00 Z" fill="#3cba50"/>
<path d="M82.70,470.30 L86.70,470.30 L84.70,473.70 Z" fill="#3cba50"/>
<path d="M96.30,464.90 L100.30,464.90 L98.30,468.30 Z" fill="#3cba50"/>
<path d="M106.50,462.70 L110.50,462.70 L108.50,466.10 Z" fill="#3cba50"/>
<path d="M120.10,458.20 L124.10,458.20 L122.10,461.60 Z" fill="#3cba50"/>
<path d="M130.30,455.10 L134.30,455.10 L132.30,458.50 Z" fill="#3cba50"/>
<path d="M143.90,452.10 L147.90,452.10 L145.90,455.50 Z" fill="#3cba50"/>
<line x1="98.30" y1="461.70" x2="98.30" y2="465.30" stroke="#111111" stroke-width="0.8" />
<line x1="97.20" y1="461.70" x2="99.40" y2="461.70" stroke="#111111" stroke-width="0.8" />
<line x1="97.20" y1="465.30" x2="99.40" y2="465.30" stroke="#111111" stroke-width="0.8" />
<line x1="108.50" y1="458.70" x2="108.50" y2="463.10" stroke="#111111" stroke-width="0.8" />
<line x1="107.40" y1="458.70" x2="109.60" y2="458.70" stroke="#111111" stroke-width="0.8" />
<line x1="107.40" y1="463.10" x2="109.60" y2="463.10" stroke="#111111" stroke-width="0.8" />
<line x1="122.10" y1="449.70" x2="122.10" y2="455.30" stroke="#111111" stroke-width="0.8" />
<line x1="121.00" y1="449.70" x2="123.20" y2="449.70" stroke="#111111" stroke-width="0.8" />
<line x1="121.00" y1="455.30" x2="123.20" y2="455.30" stroke="#111111" stroke-width="0.8" />
<line x1="132.30" y1="441.20" x2="132.30" y2="449.20" stroke="#111111" stroke-width="0.8" />
<line x1="131.20" y1="441.20" x2="133.40" y2="441.20" stroke="#111111" stroke-width="0.8" />
<line x1="131.20" y1="449.20" x2="133.40" y2="449.20" stroke="#111111" stroke-width="0.8" />
<line x1="145.90" y1="428.50" x2="145.90" y2="438.50" stroke="#111111" stroke-width="0.8" />
<line x1="144.80" y1="428.50" x2="147.00" y2="428.50" stroke="#111111" stroke-width="0.8" />
<line x1="144.80" y1="438.50" x2="147.00" y2="438.50" stroke="#111111" stroke-width="0.8" />
<polyline points="50.70,478.70 60.90,476.50 74.50,473.50 84.70,470.20 98.30,463.50 108.50,460.90 122.10,452.50 132.30,445.20 145.90,433.50" fill="none" stroke="#111111" stroke-width="1.4" stroke-linejoin="round" stroke-linecap="round"/>
<circle cx="50.70" cy="478.70" r="1.75" fill="#111111"/>
<circle cx="60.90" cy="476.50" r="1.75" fill="#111111"/>
<circle cx="74.50" cy="473.50" r="1.75" fill="#111111"/>
<circle cx="84.70" cy="470.20" r="1.75" fill="#111111"/>
<circle cx="98.30" cy="463.50" r="1.75" fill="#111111"/>
<circle cx="108.50" cy="460.90" r="1.75" fill="#111111"/>
<circle cx="122.10" cy="452.50" r="1.75" fill="#111111"/>
<circle cx="132.30" cy="445.20" r="1.75" fill="#111111"/>
<circle cx="145.90" cy="433.50" r="1.75" fill="#111111"/>
<line x1="154.30" y1="421.90" x2="165.90" y2="421.90" stroke="#111111" stroke-width="1.15" />
<circle cx="160.60" cy="421.90" r="1.5" fill="#111111"/>
<text x="167.40" y="423.34" font-size="5.15" text-anchor="start" fill="#1c1c1c" font-weight="normal" transform="translate(0,-33.720) scale(1,1.08)"  style="stroke-width:0.08px">Vehicle</text>
<line x1="154.30" y1="429.30" x2="165.90" y2="429.30" stroke="#24603a" stroke-width="1.15" />
<path d="M158.90,430.49 L162.30,430.49 L160.60,427.60 Z" fill="#24603a"/>
<text x="167.40" y="430.74" font-size="5.15" text-anchor="start" fill="#1c1c1c" font-weight="normal" transform="translate(0,-34.312) scale(1,1.08)"  style="stroke-width:0.08px">AZD9496 5 mpk PO qdx28</text>
<line x1="154.30" y1="437.60" x2="165.90" y2="437.60" stroke="#3cba50" stroke-width="1.15" />
<path d="M158.90,436.41 L162.30,436.41 L160.60,439.30 Z" fill="#3cba50"/>
<text x="167.40" y="439.04" font-size="5.15" text-anchor="start" fill="#4aa85a" font-weight="normal" transform="translate(0,-34.976) scale(1,1.08)" style="stroke:none">Fulvestrant 1 mg SC q7dx4</text>
<line x1="279.00" y1="415.10" x2="279.00" y2="488.10" stroke="#555555" stroke-width="0.9" />
<line x1="279.00" y1="487.90" x2="385.70" y2="487.90" stroke="#555555" stroke-width="0.9" />
<line x1="277.20" y1="487.60" x2="279.00" y2="487.60" stroke="#555555" stroke-width="0.8" />
<text x="275.00" y="489.27" font-size="5.8" text-anchor="end" fill="#1c1c1c" font-weight="normal" transform="translate(0,-38.976) scale(1,1.08)" >0.0</text>
<line x1="277.20" y1="463.60" x2="279.00" y2="463.60" stroke="#555555" stroke-width="0.8" />
<text x="275.00" y="465.27" font-size="5.8" text-anchor="end" fill="#1c1c1c" font-weight="normal" transform="translate(0,-37.056) scale(1,1.08)" >0.5</text>
<line x1="277.20" y1="439.60" x2="279.00" y2="439.60" stroke="#555555" stroke-width="0.8" />
<text x="275.00" y="441.27" font-size="5.8" text-anchor="end" fill="#1c1c1c" font-weight="normal" transform="translate(0,-35.136) scale(1,1.08)" >1.0</text>
<line x1="277.20" y1="415.60" x2="279.00" y2="415.60" stroke="#555555" stroke-width="0.8" />
<text x="275.00" y="417.27" font-size="5.8" text-anchor="end" fill="#1c1c1c" font-weight="normal" transform="translate(0,-33.216) scale(1,1.08)" >1.5</text>
<text x="257.00" y="407.68" font-size="10.6" text-anchor="start" fill="#111" font-weight="bold" transform="translate(0,-32.312) scale(1,1.08)" >I</text>
<g transform="translate(256.70,451.50) rotate(-90)">
<text x="0" y="2.43" font-size="6.8" text-anchor="middle" fill="#1c1c1c" >Fold change</text>
</g>
<rect x="283.60" y="439.60" width="6.5" height="48.00" fill="#1b1b1b"/>
<line x1="286.85" y1="436.24" x2="286.85" y2="439.60" stroke="#1b1b1b" stroke-width="0.7" />
<line x1="285.65" y1="436.24" x2="288.05" y2="436.24" stroke="#1b1b1b" stroke-width="0.7" />
<rect x="293.40" y="477.52" width="7.3" height="10.08" fill="#3953a4"/>
<line x1="297.05" y1="475.60" x2="297.05" y2="477.52" stroke="#3953a4" stroke-width="0.7" />
<line x1="295.85" y1="475.60" x2="298.25" y2="475.60" stroke="#3953a4" stroke-width="0.7" />
<line x1="291.90" y1="487.60" x2="291.90" y2="489.40" stroke="#555555" stroke-width="0.8" />
<g transform="translate(294.50,492.10) rotate(-45)"><text x="0" y="2" font-size="6.3" text-anchor="end" fill="#1c1c1c">GREB1</text></g>
<rect x="310.80" y="439.60" width="6.5" height="48.00" fill="#1b1b1b"/>
<line x1="314.05" y1="436.24" x2="314.05" y2="439.60" stroke="#1b1b1b" stroke-width="0.7" />
<line x1="312.85" y1="436.24" x2="315.25" y2="436.24" stroke="#1b1b1b" stroke-width="0.7" />
<rect x="320.60" y="466.96" width="7.3" height="20.64" fill="#3953a4"/>
<line x1="324.25" y1="465.52" x2="324.25" y2="466.96" stroke="#3953a4" stroke-width="0.7" />
<line x1="323.05" y1="465.52" x2="325.45" y2="465.52" stroke="#3953a4" stroke-width="0.7" />
<line x1="319.10" y1="487.60" x2="319.10" y2="489.40" stroke="#555555" stroke-width="0.8" />
<g transform="translate(321.70,492.10) rotate(-45)"><text x="0" y="2" font-size="6.3" text-anchor="end" fill="#1c1c1c">STC2</text></g>
<rect x="337.50" y="439.60" width="6.5" height="48.00" fill="#1b1b1b"/>
<line x1="340.75" y1="431.44" x2="340.75" y2="439.60" stroke="#1b1b1b" stroke-width="0.7" />
<line x1="339.55" y1="431.44" x2="341.95" y2="431.44" stroke="#1b1b1b" stroke-width="0.7" />
<rect x="347.30" y="485.20" width="7.3" height="2.40" fill="#3953a4"/>
<line x1="345.80" y1="487.60" x2="345.80" y2="489.40" stroke="#555555" stroke-width="0.8" />
<g transform="translate(348.40,492.10) rotate(-45)"><text x="0" y="2" font-size="6.3" text-anchor="end" fill="#1c1c1c">TFF1</text></g>
<rect x="364.70" y="439.60" width="6.5" height="48.00" fill="#1b1b1b"/>
<line x1="367.95" y1="421.84" x2="367.95" y2="439.60" stroke="#1b1b1b" stroke-width="0.7" />
<line x1="366.75" y1="421.84" x2="369.15" y2="421.84" stroke="#1b1b1b" stroke-width="0.7" />
<rect x="374.50" y="482.32" width="7.3" height="5.28" fill="#3953a4"/>
<line x1="378.15" y1="480.40" x2="378.15" y2="482.32" stroke="#3953a4" stroke-width="0.7" />
<line x1="376.95" y1="480.40" x2="379.35" y2="480.40" stroke="#3953a4" stroke-width="0.7" />
<line x1="373.00" y1="487.60" x2="373.00" y2="489.40" stroke="#555555" stroke-width="0.8" />
<g transform="translate(375.60,492.10) rotate(-45)"><text x="0" y="2" font-size="6.3" text-anchor="end" fill="#1c1c1c">PR</text></g>
<rect x="394.0" y="418.9" width="7" height="3.2" fill="#1b1b1b"/>
<text x="404.60" y="422.09" font-size="5.3" text-anchor="start" fill="#1c1c1c" font-weight="normal" transform="translate(0,-33.616) scale(1,1.08)"  style="stroke-width:0.08px">Vehicle</text>
<rect x="393.9" y="427.2" width="7.4" height="3.3" fill="#3953a4" stroke="#2a3a7a" stroke-width="0.5"/>
<text x="404.60" y="430.49" font-size="5.3" text-anchor="start" fill="#1c1c1c" font-weight="normal" transform="translate(0,-34.288) scale(1,1.08)"  style="stroke-width:0.08px">AZD9496</text>
</svg></body></html>
